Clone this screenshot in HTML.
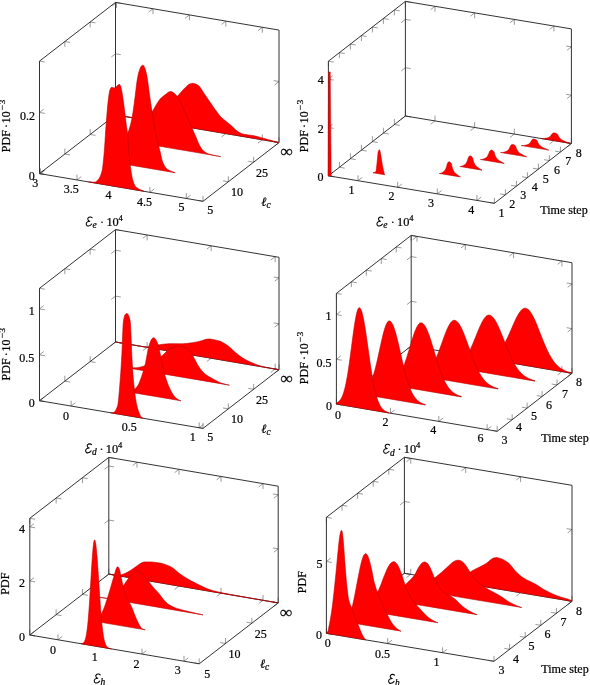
<!DOCTYPE html>
<html><head><meta charset="utf-8"><style>
html,body{margin:0;padding:0;background:#fff;width:590px;height:685px;overflow:hidden}
svg{display:block;font-family:"Liberation Serif",serif}
svg{will-change:transform}
text{stroke:#000;stroke-width:0.22px}
</style></head><body>
<svg width="590" height="685" viewBox="0 0 590 685" font-family="Liberation Serif, serif" fill="#000">
<line x1="40.52" y1="173.77" x2="44.79" y2="170.47" stroke="#555" stroke-width="0.6"/>
<line x1="40.52" y1="173.77" x2="40.52" y2="168.37" stroke="#555" stroke-width="0.6"/>
<line x1="116.52" y1="115.07" x2="112.25" y2="118.37" stroke="#555" stroke-width="0.6"/>
<line x1="116.52" y1="115.07" x2="116.52" y2="109.67" stroke="#555" stroke-width="0.6"/>
<line x1="116.52" y1="2.57" x2="112.25" y2="5.87" stroke="#555" stroke-width="0.6"/>
<line x1="116.52" y1="2.57" x2="116.52" y2="7.97" stroke="#555" stroke-width="0.6"/>
<line x1="76.97" y1="179.95" x2="81.24" y2="176.65" stroke="#555" stroke-width="0.6"/>
<line x1="76.97" y1="179.95" x2="76.97" y2="174.55" stroke="#555" stroke-width="0.6"/>
<line x1="152.97" y1="121.25" x2="148.69" y2="124.55" stroke="#555" stroke-width="0.6"/>
<line x1="152.97" y1="121.25" x2="152.97" y2="115.85" stroke="#555" stroke-width="0.6"/>
<line x1="152.97" y1="8.75" x2="148.69" y2="12.05" stroke="#555" stroke-width="0.6"/>
<line x1="152.97" y1="8.75" x2="152.97" y2="14.15" stroke="#555" stroke-width="0.6"/>
<line x1="113.41" y1="186.12" x2="117.69" y2="182.82" stroke="#555" stroke-width="0.6"/>
<line x1="113.41" y1="186.12" x2="113.41" y2="180.72" stroke="#555" stroke-width="0.6"/>
<line x1="189.41" y1="127.42" x2="185.14" y2="130.72" stroke="#555" stroke-width="0.6"/>
<line x1="189.41" y1="127.42" x2="189.41" y2="122.02" stroke="#555" stroke-width="0.6"/>
<line x1="189.41" y1="14.92" x2="185.14" y2="18.22" stroke="#555" stroke-width="0.6"/>
<line x1="189.41" y1="14.92" x2="189.41" y2="20.32" stroke="#555" stroke-width="0.6"/>
<line x1="149.86" y1="192.3" x2="154.13" y2="189" stroke="#555" stroke-width="0.6"/>
<line x1="149.86" y1="192.3" x2="149.86" y2="186.9" stroke="#555" stroke-width="0.6"/>
<line x1="225.86" y1="133.6" x2="221.59" y2="136.9" stroke="#555" stroke-width="0.6"/>
<line x1="225.86" y1="133.6" x2="225.86" y2="128.2" stroke="#555" stroke-width="0.6"/>
<line x1="225.86" y1="21.1" x2="221.59" y2="24.4" stroke="#555" stroke-width="0.6"/>
<line x1="225.86" y1="21.1" x2="225.86" y2="26.5" stroke="#555" stroke-width="0.6"/>
<line x1="186.31" y1="198.47" x2="190.58" y2="195.17" stroke="#555" stroke-width="0.6"/>
<line x1="186.31" y1="198.47" x2="186.31" y2="193.07" stroke="#555" stroke-width="0.6"/>
<line x1="262.31" y1="139.77" x2="258.03" y2="143.07" stroke="#555" stroke-width="0.6"/>
<line x1="262.31" y1="139.77" x2="262.31" y2="134.37" stroke="#555" stroke-width="0.6"/>
<line x1="262.31" y1="27.27" x2="258.03" y2="30.57" stroke="#555" stroke-width="0.6"/>
<line x1="262.31" y1="27.27" x2="262.31" y2="32.67" stroke="#555" stroke-width="0.6"/>
<line x1="203" y1="201.3" x2="197.68" y2="200.4" stroke="#555" stroke-width="0.6"/>
<line x1="203" y1="201.3" x2="203" y2="195.9" stroke="#555" stroke-width="0.6"/>
<line x1="39.5" y1="173.6" x2="44.82" y2="174.5" stroke="#555" stroke-width="0.6"/>
<line x1="39.5" y1="173.6" x2="39.5" y2="168.2" stroke="#555" stroke-width="0.6"/>
<line x1="39.5" y1="61.1" x2="44.82" y2="62" stroke="#555" stroke-width="0.6"/>
<line x1="39.5" y1="61.1" x2="39.5" y2="66.5" stroke="#555" stroke-width="0.6"/>
<line x1="228.33" y1="181.73" x2="223.01" y2="180.83" stroke="#555" stroke-width="0.6"/>
<line x1="228.33" y1="181.73" x2="228.33" y2="176.33" stroke="#555" stroke-width="0.6"/>
<line x1="64.83" y1="154.03" x2="70.16" y2="154.94" stroke="#555" stroke-width="0.6"/>
<line x1="64.83" y1="154.03" x2="64.83" y2="148.63" stroke="#555" stroke-width="0.6"/>
<line x1="64.83" y1="41.53" x2="70.16" y2="42.44" stroke="#555" stroke-width="0.6"/>
<line x1="64.83" y1="41.53" x2="64.83" y2="46.93" stroke="#555" stroke-width="0.6"/>
<line x1="253.67" y1="162.17" x2="248.34" y2="161.26" stroke="#555" stroke-width="0.6"/>
<line x1="253.67" y1="162.17" x2="253.67" y2="156.77" stroke="#555" stroke-width="0.6"/>
<line x1="90.17" y1="134.47" x2="95.49" y2="135.37" stroke="#555" stroke-width="0.6"/>
<line x1="90.17" y1="134.47" x2="90.17" y2="129.07" stroke="#555" stroke-width="0.6"/>
<line x1="90.17" y1="21.97" x2="95.49" y2="22.87" stroke="#555" stroke-width="0.6"/>
<line x1="90.17" y1="21.97" x2="90.17" y2="27.37" stroke="#555" stroke-width="0.6"/>
<line x1="279" y1="142.6" x2="273.68" y2="141.7" stroke="#555" stroke-width="0.6"/>
<line x1="279" y1="142.6" x2="279" y2="137.2" stroke="#555" stroke-width="0.6"/>
<line x1="115.5" y1="114.9" x2="120.82" y2="115.8" stroke="#555" stroke-width="0.6"/>
<line x1="115.5" y1="114.9" x2="115.5" y2="109.5" stroke="#555" stroke-width="0.6"/>
<line x1="115.5" y1="2.4" x2="120.82" y2="3.3" stroke="#555" stroke-width="0.6"/>
<line x1="115.5" y1="2.4" x2="115.5" y2="7.8" stroke="#555" stroke-width="0.6"/>
<line x1="39.5" y1="173.6" x2="44.82" y2="174.5" stroke="#555" stroke-width="0.6"/>
<line x1="39.5" y1="173.6" x2="43.77" y2="170.3" stroke="#555" stroke-width="0.6"/>
<line x1="115.5" y1="114.9" x2="120.82" y2="115.8" stroke="#555" stroke-width="0.6"/>
<line x1="115.5" y1="114.9" x2="111.23" y2="118.2" stroke="#555" stroke-width="0.6"/>
<line x1="279" y1="142.6" x2="273.68" y2="141.7" stroke="#555" stroke-width="0.6"/>
<line x1="279" y1="142.6" x2="274.73" y2="145.9" stroke="#555" stroke-width="0.6"/>
<line x1="39.5" y1="112.49" x2="44.82" y2="113.39" stroke="#555" stroke-width="0.6"/>
<line x1="39.5" y1="112.49" x2="43.77" y2="109.19" stroke="#555" stroke-width="0.6"/>
<line x1="115.5" y1="53.79" x2="120.82" y2="54.69" stroke="#555" stroke-width="0.6"/>
<line x1="115.5" y1="53.79" x2="111.23" y2="57.09" stroke="#555" stroke-width="0.6"/>
<line x1="279" y1="81.49" x2="273.68" y2="80.59" stroke="#555" stroke-width="0.6"/>
<line x1="279" y1="81.49" x2="274.73" y2="84.79" stroke="#555" stroke-width="0.6"/>
<line x1="39.5" y1="173.6" x2="39.5" y2="61.1" stroke="#333" stroke-width="1.0"/>
<line x1="39.5" y1="61.1" x2="115.5" y2="2.4" stroke="#333" stroke-width="1.0"/>
<line x1="115.5" y1="114.9" x2="115.5" y2="2.4" stroke="#333" stroke-width="1.0"/>
<line x1="115.5" y1="2.4" x2="279" y2="30.1" stroke="#333" stroke-width="1.0"/>
<line x1="279" y1="142.6" x2="279" y2="30.1" stroke="#333" stroke-width="1.0"/>
<line x1="39.5" y1="173.6" x2="115.5" y2="114.9" stroke="#333" stroke-width="1.0"/>
<line x1="115.5" y1="114.9" x2="279" y2="142.6" stroke="#333" stroke-width="1.0"/>
<line x1="39.5" y1="173.6" x2="203" y2="201.3" stroke="#333" stroke-width="1.0"/>
<line x1="203" y1="201.3" x2="279" y2="142.6" stroke="#333" stroke-width="1.0"/>
<line x1="358" y1="180.7" x2="362.26" y2="177.39" stroke="#555" stroke-width="0.6"/>
<line x1="358" y1="180.7" x2="358" y2="175.3" stroke="#555" stroke-width="0.6"/>
<line x1="435" y1="120.9" x2="430.73" y2="124.22" stroke="#555" stroke-width="0.6"/>
<line x1="435" y1="120.9" x2="435" y2="115.5" stroke="#555" stroke-width="0.6"/>
<line x1="435" y1="6.3" x2="430.73" y2="9.62" stroke="#555" stroke-width="0.6"/>
<line x1="435" y1="6.3" x2="435" y2="11.7" stroke="#555" stroke-width="0.6"/>
<line x1="397.65" y1="187.27" x2="401.92" y2="183.96" stroke="#555" stroke-width="0.6"/>
<line x1="397.65" y1="187.27" x2="397.65" y2="181.87" stroke="#555" stroke-width="0.6"/>
<line x1="474.65" y1="127.47" x2="470.39" y2="130.78" stroke="#555" stroke-width="0.6"/>
<line x1="474.65" y1="127.47" x2="474.65" y2="122.07" stroke="#555" stroke-width="0.6"/>
<line x1="474.65" y1="12.87" x2="470.39" y2="16.18" stroke="#555" stroke-width="0.6"/>
<line x1="474.65" y1="12.87" x2="474.65" y2="18.27" stroke="#555" stroke-width="0.6"/>
<line x1="437.3" y1="193.84" x2="441.57" y2="190.53" stroke="#555" stroke-width="0.6"/>
<line x1="437.3" y1="193.84" x2="437.3" y2="188.44" stroke="#555" stroke-width="0.6"/>
<line x1="514.3" y1="134.04" x2="510.04" y2="137.35" stroke="#555" stroke-width="0.6"/>
<line x1="514.3" y1="134.04" x2="514.3" y2="128.64" stroke="#555" stroke-width="0.6"/>
<line x1="514.3" y1="19.44" x2="510.04" y2="22.75" stroke="#555" stroke-width="0.6"/>
<line x1="514.3" y1="19.44" x2="514.3" y2="24.84" stroke="#555" stroke-width="0.6"/>
<line x1="476.95" y1="200.41" x2="481.22" y2="197.1" stroke="#555" stroke-width="0.6"/>
<line x1="476.95" y1="200.41" x2="476.95" y2="195.01" stroke="#555" stroke-width="0.6"/>
<line x1="553.95" y1="140.61" x2="549.69" y2="143.92" stroke="#555" stroke-width="0.6"/>
<line x1="553.95" y1="140.61" x2="553.95" y2="135.21" stroke="#555" stroke-width="0.6"/>
<line x1="553.95" y1="26.01" x2="549.69" y2="29.32" stroke="#555" stroke-width="0.6"/>
<line x1="553.95" y1="26.01" x2="553.95" y2="31.41" stroke="#555" stroke-width="0.6"/>
<line x1="494.4" y1="203.3" x2="489.07" y2="202.42" stroke="#555" stroke-width="0.6"/>
<line x1="494.4" y1="203.3" x2="494.4" y2="197.9" stroke="#555" stroke-width="0.6"/>
<line x1="328.4" y1="175.8" x2="333.73" y2="176.68" stroke="#555" stroke-width="0.6"/>
<line x1="328.4" y1="175.8" x2="328.4" y2="170.4" stroke="#555" stroke-width="0.6"/>
<line x1="328.4" y1="61.2" x2="333.73" y2="62.08" stroke="#555" stroke-width="0.6"/>
<line x1="328.4" y1="61.2" x2="328.4" y2="66.6" stroke="#555" stroke-width="0.6"/>
<line x1="505.4" y1="194.76" x2="500.07" y2="193.87" stroke="#555" stroke-width="0.6"/>
<line x1="505.4" y1="194.76" x2="505.4" y2="189.36" stroke="#555" stroke-width="0.6"/>
<line x1="339.4" y1="167.26" x2="344.73" y2="168.14" stroke="#555" stroke-width="0.6"/>
<line x1="339.4" y1="167.26" x2="339.4" y2="161.86" stroke="#555" stroke-width="0.6"/>
<line x1="339.4" y1="52.66" x2="344.73" y2="53.54" stroke="#555" stroke-width="0.6"/>
<line x1="339.4" y1="52.66" x2="339.4" y2="58.06" stroke="#555" stroke-width="0.6"/>
<line x1="516.4" y1="186.21" x2="511.07" y2="185.33" stroke="#555" stroke-width="0.6"/>
<line x1="516.4" y1="186.21" x2="516.4" y2="180.81" stroke="#555" stroke-width="0.6"/>
<line x1="350.4" y1="158.71" x2="355.73" y2="159.6" stroke="#555" stroke-width="0.6"/>
<line x1="350.4" y1="158.71" x2="350.4" y2="153.31" stroke="#555" stroke-width="0.6"/>
<line x1="350.4" y1="44.11" x2="355.73" y2="45" stroke="#555" stroke-width="0.6"/>
<line x1="350.4" y1="44.11" x2="350.4" y2="49.51" stroke="#555" stroke-width="0.6"/>
<line x1="527.4" y1="177.67" x2="522.07" y2="176.79" stroke="#555" stroke-width="0.6"/>
<line x1="527.4" y1="177.67" x2="527.4" y2="172.27" stroke="#555" stroke-width="0.6"/>
<line x1="361.4" y1="150.17" x2="366.73" y2="151.05" stroke="#555" stroke-width="0.6"/>
<line x1="361.4" y1="150.17" x2="361.4" y2="144.77" stroke="#555" stroke-width="0.6"/>
<line x1="361.4" y1="35.57" x2="366.73" y2="36.45" stroke="#555" stroke-width="0.6"/>
<line x1="361.4" y1="35.57" x2="361.4" y2="40.97" stroke="#555" stroke-width="0.6"/>
<line x1="538.4" y1="169.13" x2="533.07" y2="168.25" stroke="#555" stroke-width="0.6"/>
<line x1="538.4" y1="169.13" x2="538.4" y2="163.73" stroke="#555" stroke-width="0.6"/>
<line x1="372.4" y1="141.63" x2="377.73" y2="142.51" stroke="#555" stroke-width="0.6"/>
<line x1="372.4" y1="141.63" x2="372.4" y2="136.23" stroke="#555" stroke-width="0.6"/>
<line x1="372.4" y1="27.03" x2="377.73" y2="27.91" stroke="#555" stroke-width="0.6"/>
<line x1="372.4" y1="27.03" x2="372.4" y2="32.43" stroke="#555" stroke-width="0.6"/>
<line x1="549.4" y1="160.59" x2="544.07" y2="159.7" stroke="#555" stroke-width="0.6"/>
<line x1="549.4" y1="160.59" x2="549.4" y2="155.19" stroke="#555" stroke-width="0.6"/>
<line x1="383.4" y1="133.09" x2="388.73" y2="133.97" stroke="#555" stroke-width="0.6"/>
<line x1="383.4" y1="133.09" x2="383.4" y2="127.69" stroke="#555" stroke-width="0.6"/>
<line x1="383.4" y1="18.49" x2="388.73" y2="19.37" stroke="#555" stroke-width="0.6"/>
<line x1="383.4" y1="18.49" x2="383.4" y2="23.89" stroke="#555" stroke-width="0.6"/>
<line x1="560.4" y1="152.04" x2="555.07" y2="151.16" stroke="#555" stroke-width="0.6"/>
<line x1="560.4" y1="152.04" x2="560.4" y2="146.64" stroke="#555" stroke-width="0.6"/>
<line x1="394.4" y1="124.54" x2="399.73" y2="125.43" stroke="#555" stroke-width="0.6"/>
<line x1="394.4" y1="124.54" x2="394.4" y2="119.14" stroke="#555" stroke-width="0.6"/>
<line x1="394.4" y1="9.94" x2="399.73" y2="10.83" stroke="#555" stroke-width="0.6"/>
<line x1="394.4" y1="9.94" x2="394.4" y2="15.34" stroke="#555" stroke-width="0.6"/>
<line x1="571.4" y1="143.5" x2="566.07" y2="142.62" stroke="#555" stroke-width="0.6"/>
<line x1="571.4" y1="143.5" x2="571.4" y2="138.1" stroke="#555" stroke-width="0.6"/>
<line x1="405.4" y1="116" x2="410.73" y2="116.88" stroke="#555" stroke-width="0.6"/>
<line x1="405.4" y1="116" x2="405.4" y2="110.6" stroke="#555" stroke-width="0.6"/>
<line x1="405.4" y1="1.4" x2="410.73" y2="2.28" stroke="#555" stroke-width="0.6"/>
<line x1="405.4" y1="1.4" x2="405.4" y2="6.8" stroke="#555" stroke-width="0.6"/>
<line x1="328.4" y1="175.8" x2="333.73" y2="176.68" stroke="#555" stroke-width="0.6"/>
<line x1="328.4" y1="175.8" x2="332.66" y2="172.49" stroke="#555" stroke-width="0.6"/>
<line x1="405.4" y1="116" x2="410.73" y2="116.88" stroke="#555" stroke-width="0.6"/>
<line x1="405.4" y1="116" x2="401.14" y2="119.31" stroke="#555" stroke-width="0.6"/>
<line x1="571.4" y1="143.5" x2="566.07" y2="142.62" stroke="#555" stroke-width="0.6"/>
<line x1="571.4" y1="143.5" x2="567.14" y2="146.81" stroke="#555" stroke-width="0.6"/>
<line x1="328.4" y1="127.5" x2="333.73" y2="128.38" stroke="#555" stroke-width="0.6"/>
<line x1="328.4" y1="127.5" x2="332.66" y2="124.18" stroke="#555" stroke-width="0.6"/>
<line x1="405.4" y1="67.7" x2="410.73" y2="68.58" stroke="#555" stroke-width="0.6"/>
<line x1="405.4" y1="67.7" x2="401.14" y2="71.01" stroke="#555" stroke-width="0.6"/>
<line x1="571.4" y1="95.2" x2="566.07" y2="94.31" stroke="#555" stroke-width="0.6"/>
<line x1="571.4" y1="95.2" x2="567.14" y2="98.51" stroke="#555" stroke-width="0.6"/>
<line x1="328.4" y1="79.19" x2="333.73" y2="80.08" stroke="#555" stroke-width="0.6"/>
<line x1="328.4" y1="79.19" x2="332.66" y2="75.88" stroke="#555" stroke-width="0.6"/>
<line x1="405.4" y1="19.39" x2="410.73" y2="20.28" stroke="#555" stroke-width="0.6"/>
<line x1="405.4" y1="19.39" x2="401.14" y2="22.71" stroke="#555" stroke-width="0.6"/>
<line x1="571.4" y1="46.89" x2="566.07" y2="46.01" stroke="#555" stroke-width="0.6"/>
<line x1="571.4" y1="46.89" x2="567.14" y2="50.21" stroke="#555" stroke-width="0.6"/>
<line x1="328.4" y1="175.8" x2="328.4" y2="61.2" stroke="#333" stroke-width="1.0"/>
<line x1="328.4" y1="61.2" x2="405.4" y2="1.4" stroke="#333" stroke-width="1.0"/>
<line x1="405.4" y1="116" x2="405.4" y2="1.4" stroke="#333" stroke-width="1.0"/>
<line x1="405.4" y1="1.4" x2="571.4" y2="28.9" stroke="#333" stroke-width="1.0"/>
<line x1="571.4" y1="143.5" x2="571.4" y2="28.9" stroke="#333" stroke-width="1.0"/>
<line x1="328.4" y1="175.8" x2="405.4" y2="116" stroke="#333" stroke-width="1.0"/>
<line x1="405.4" y1="116" x2="571.4" y2="143.5" stroke="#333" stroke-width="1.0"/>
<line x1="328.4" y1="175.8" x2="494.4" y2="203.3" stroke="#333" stroke-width="1.0"/>
<line x1="494.4" y1="203.3" x2="571.4" y2="143.5" stroke="#333" stroke-width="1.0"/>
<line x1="71.12" y1="406.06" x2="75.4" y2="402.76" stroke="#555" stroke-width="0.6"/>
<line x1="71.12" y1="406.06" x2="71.12" y2="400.66" stroke="#555" stroke-width="0.6"/>
<line x1="147.12" y1="347.36" x2="142.85" y2="350.66" stroke="#555" stroke-width="0.6"/>
<line x1="147.12" y1="347.36" x2="147.12" y2="341.96" stroke="#555" stroke-width="0.6"/>
<line x1="147.12" y1="234.96" x2="142.85" y2="238.26" stroke="#555" stroke-width="0.6"/>
<line x1="147.12" y1="234.96" x2="147.12" y2="240.36" stroke="#555" stroke-width="0.6"/>
<line x1="135.14" y1="416.9" x2="139.42" y2="413.6" stroke="#555" stroke-width="0.6"/>
<line x1="135.14" y1="416.9" x2="135.14" y2="411.5" stroke="#555" stroke-width="0.6"/>
<line x1="211.14" y1="358.2" x2="206.87" y2="361.5" stroke="#555" stroke-width="0.6"/>
<line x1="211.14" y1="358.2" x2="211.14" y2="352.8" stroke="#555" stroke-width="0.6"/>
<line x1="211.14" y1="245.8" x2="206.87" y2="249.1" stroke="#555" stroke-width="0.6"/>
<line x1="211.14" y1="245.8" x2="211.14" y2="251.2" stroke="#555" stroke-width="0.6"/>
<line x1="199.16" y1="427.75" x2="203.43" y2="424.45" stroke="#555" stroke-width="0.6"/>
<line x1="199.16" y1="427.75" x2="199.16" y2="422.35" stroke="#555" stroke-width="0.6"/>
<line x1="275.16" y1="369.05" x2="270.89" y2="372.35" stroke="#555" stroke-width="0.6"/>
<line x1="275.16" y1="369.05" x2="275.16" y2="363.65" stroke="#555" stroke-width="0.6"/>
<line x1="275.16" y1="256.65" x2="270.89" y2="259.95" stroke="#555" stroke-width="0.6"/>
<line x1="275.16" y1="256.65" x2="275.16" y2="262.05" stroke="#555" stroke-width="0.6"/>
<line x1="203" y1="428.4" x2="197.68" y2="427.5" stroke="#555" stroke-width="0.6"/>
<line x1="203" y1="428.4" x2="203" y2="423" stroke="#555" stroke-width="0.6"/>
<line x1="39.5" y1="400.7" x2="44.82" y2="401.6" stroke="#555" stroke-width="0.6"/>
<line x1="39.5" y1="400.7" x2="39.5" y2="395.3" stroke="#555" stroke-width="0.6"/>
<line x1="39.5" y1="288.3" x2="44.82" y2="289.2" stroke="#555" stroke-width="0.6"/>
<line x1="39.5" y1="288.3" x2="39.5" y2="293.7" stroke="#555" stroke-width="0.6"/>
<line x1="228.33" y1="408.83" x2="223.01" y2="407.93" stroke="#555" stroke-width="0.6"/>
<line x1="228.33" y1="408.83" x2="228.33" y2="403.43" stroke="#555" stroke-width="0.6"/>
<line x1="64.83" y1="381.13" x2="70.16" y2="382.04" stroke="#555" stroke-width="0.6"/>
<line x1="64.83" y1="381.13" x2="64.83" y2="375.73" stroke="#555" stroke-width="0.6"/>
<line x1="64.83" y1="268.73" x2="70.16" y2="269.64" stroke="#555" stroke-width="0.6"/>
<line x1="64.83" y1="268.73" x2="64.83" y2="274.13" stroke="#555" stroke-width="0.6"/>
<line x1="253.67" y1="389.27" x2="248.34" y2="388.36" stroke="#555" stroke-width="0.6"/>
<line x1="253.67" y1="389.27" x2="253.67" y2="383.87" stroke="#555" stroke-width="0.6"/>
<line x1="90.17" y1="361.57" x2="95.49" y2="362.47" stroke="#555" stroke-width="0.6"/>
<line x1="90.17" y1="361.57" x2="90.17" y2="356.17" stroke="#555" stroke-width="0.6"/>
<line x1="90.17" y1="249.17" x2="95.49" y2="250.07" stroke="#555" stroke-width="0.6"/>
<line x1="90.17" y1="249.17" x2="90.17" y2="254.57" stroke="#555" stroke-width="0.6"/>
<line x1="279" y1="369.7" x2="273.68" y2="368.8" stroke="#555" stroke-width="0.6"/>
<line x1="279" y1="369.7" x2="279" y2="364.3" stroke="#555" stroke-width="0.6"/>
<line x1="115.5" y1="342" x2="120.82" y2="342.9" stroke="#555" stroke-width="0.6"/>
<line x1="115.5" y1="342" x2="115.5" y2="336.6" stroke="#555" stroke-width="0.6"/>
<line x1="115.5" y1="229.6" x2="120.82" y2="230.5" stroke="#555" stroke-width="0.6"/>
<line x1="115.5" y1="229.6" x2="115.5" y2="235" stroke="#555" stroke-width="0.6"/>
<line x1="39.5" y1="400.7" x2="44.82" y2="401.6" stroke="#555" stroke-width="0.6"/>
<line x1="39.5" y1="400.7" x2="43.77" y2="397.4" stroke="#555" stroke-width="0.6"/>
<line x1="115.5" y1="342" x2="120.82" y2="342.9" stroke="#555" stroke-width="0.6"/>
<line x1="115.5" y1="342" x2="111.23" y2="345.3" stroke="#555" stroke-width="0.6"/>
<line x1="279" y1="369.7" x2="273.68" y2="368.8" stroke="#555" stroke-width="0.6"/>
<line x1="279" y1="369.7" x2="274.73" y2="373" stroke="#555" stroke-width="0.6"/>
<line x1="39.5" y1="354.8" x2="44.82" y2="355.7" stroke="#555" stroke-width="0.6"/>
<line x1="39.5" y1="354.8" x2="43.77" y2="351.5" stroke="#555" stroke-width="0.6"/>
<line x1="115.5" y1="296.1" x2="120.82" y2="297" stroke="#555" stroke-width="0.6"/>
<line x1="115.5" y1="296.1" x2="111.23" y2="299.4" stroke="#555" stroke-width="0.6"/>
<line x1="279" y1="323.8" x2="273.68" y2="322.9" stroke="#555" stroke-width="0.6"/>
<line x1="279" y1="323.8" x2="274.73" y2="327.1" stroke="#555" stroke-width="0.6"/>
<line x1="39.5" y1="308.9" x2="44.82" y2="309.8" stroke="#555" stroke-width="0.6"/>
<line x1="39.5" y1="308.9" x2="43.77" y2="305.6" stroke="#555" stroke-width="0.6"/>
<line x1="115.5" y1="250.2" x2="120.82" y2="251.1" stroke="#555" stroke-width="0.6"/>
<line x1="115.5" y1="250.2" x2="111.23" y2="253.5" stroke="#555" stroke-width="0.6"/>
<line x1="279" y1="277.9" x2="273.68" y2="277" stroke="#555" stroke-width="0.6"/>
<line x1="279" y1="277.9" x2="274.73" y2="281.2" stroke="#555" stroke-width="0.6"/>
<line x1="39.5" y1="400.7" x2="39.5" y2="288.3" stroke="#333" stroke-width="1.0"/>
<line x1="39.5" y1="288.3" x2="115.5" y2="229.6" stroke="#333" stroke-width="1.0"/>
<line x1="115.5" y1="342" x2="115.5" y2="229.6" stroke="#333" stroke-width="1.0"/>
<line x1="115.5" y1="229.6" x2="279" y2="257.3" stroke="#333" stroke-width="1.0"/>
<line x1="279" y1="369.7" x2="279" y2="257.3" stroke="#333" stroke-width="1.0"/>
<line x1="39.5" y1="400.7" x2="115.5" y2="342" stroke="#333" stroke-width="1.0"/>
<line x1="115.5" y1="342" x2="279" y2="369.7" stroke="#333" stroke-width="1.0"/>
<line x1="39.5" y1="400.7" x2="203" y2="428.4" stroke="#333" stroke-width="1.0"/>
<line x1="203" y1="428.4" x2="279" y2="369.7" stroke="#333" stroke-width="1.0"/>
<line x1="342.2" y1="404.98" x2="346.46" y2="401.68" stroke="#555" stroke-width="0.6"/>
<line x1="342.2" y1="404.98" x2="342.2" y2="399.58" stroke="#555" stroke-width="0.6"/>
<line x1="417" y1="346.98" x2="412.73" y2="350.29" stroke="#555" stroke-width="0.6"/>
<line x1="417" y1="346.98" x2="417" y2="341.58" stroke="#555" stroke-width="0.6"/>
<line x1="417" y1="236.38" x2="412.73" y2="239.69" stroke="#555" stroke-width="0.6"/>
<line x1="417" y1="236.38" x2="417" y2="241.78" stroke="#555" stroke-width="0.6"/>
<line x1="390.5" y1="413.18" x2="394.77" y2="409.88" stroke="#555" stroke-width="0.6"/>
<line x1="390.5" y1="413.18" x2="390.5" y2="407.78" stroke="#555" stroke-width="0.6"/>
<line x1="465.3" y1="355.18" x2="461.03" y2="358.49" stroke="#555" stroke-width="0.6"/>
<line x1="465.3" y1="355.18" x2="465.3" y2="349.78" stroke="#555" stroke-width="0.6"/>
<line x1="465.3" y1="244.58" x2="461.03" y2="247.89" stroke="#555" stroke-width="0.6"/>
<line x1="465.3" y1="244.58" x2="465.3" y2="249.98" stroke="#555" stroke-width="0.6"/>
<line x1="438.8" y1="421.39" x2="443.07" y2="418.08" stroke="#555" stroke-width="0.6"/>
<line x1="438.8" y1="421.39" x2="438.8" y2="415.99" stroke="#555" stroke-width="0.6"/>
<line x1="513.6" y1="363.39" x2="509.33" y2="366.69" stroke="#555" stroke-width="0.6"/>
<line x1="513.6" y1="363.39" x2="513.6" y2="357.99" stroke="#555" stroke-width="0.6"/>
<line x1="513.6" y1="252.79" x2="509.33" y2="256.09" stroke="#555" stroke-width="0.6"/>
<line x1="513.6" y1="252.79" x2="513.6" y2="258.19" stroke="#555" stroke-width="0.6"/>
<line x1="487.1" y1="429.59" x2="491.37" y2="426.28" stroke="#555" stroke-width="0.6"/>
<line x1="487.1" y1="429.59" x2="487.1" y2="424.19" stroke="#555" stroke-width="0.6"/>
<line x1="561.9" y1="371.59" x2="557.64" y2="374.9" stroke="#555" stroke-width="0.6"/>
<line x1="561.9" y1="371.59" x2="561.9" y2="366.19" stroke="#555" stroke-width="0.6"/>
<line x1="561.9" y1="260.99" x2="557.64" y2="264.3" stroke="#555" stroke-width="0.6"/>
<line x1="561.9" y1="260.99" x2="561.9" y2="266.39" stroke="#555" stroke-width="0.6"/>
<line x1="497.2" y1="431.3" x2="491.88" y2="430.4" stroke="#555" stroke-width="0.6"/>
<line x1="497.2" y1="431.3" x2="497.2" y2="425.9" stroke="#555" stroke-width="0.6"/>
<line x1="336.4" y1="404" x2="341.72" y2="404.9" stroke="#555" stroke-width="0.6"/>
<line x1="336.4" y1="404" x2="336.4" y2="398.6" stroke="#555" stroke-width="0.6"/>
<line x1="336.4" y1="293.4" x2="341.72" y2="294.3" stroke="#555" stroke-width="0.6"/>
<line x1="336.4" y1="293.4" x2="336.4" y2="298.8" stroke="#555" stroke-width="0.6"/>
<line x1="512.16" y1="419.7" x2="506.84" y2="418.8" stroke="#555" stroke-width="0.6"/>
<line x1="512.16" y1="419.7" x2="512.16" y2="414.3" stroke="#555" stroke-width="0.6"/>
<line x1="351.36" y1="392.4" x2="356.68" y2="393.3" stroke="#555" stroke-width="0.6"/>
<line x1="351.36" y1="392.4" x2="351.36" y2="387" stroke="#555" stroke-width="0.6"/>
<line x1="351.36" y1="281.8" x2="356.68" y2="282.7" stroke="#555" stroke-width="0.6"/>
<line x1="351.36" y1="281.8" x2="351.36" y2="287.2" stroke="#555" stroke-width="0.6"/>
<line x1="527.12" y1="408.1" x2="521.8" y2="407.2" stroke="#555" stroke-width="0.6"/>
<line x1="527.12" y1="408.1" x2="527.12" y2="402.7" stroke="#555" stroke-width="0.6"/>
<line x1="366.32" y1="380.8" x2="371.64" y2="381.7" stroke="#555" stroke-width="0.6"/>
<line x1="366.32" y1="380.8" x2="366.32" y2="375.4" stroke="#555" stroke-width="0.6"/>
<line x1="366.32" y1="270.2" x2="371.64" y2="271.1" stroke="#555" stroke-width="0.6"/>
<line x1="366.32" y1="270.2" x2="366.32" y2="275.6" stroke="#555" stroke-width="0.6"/>
<line x1="542.08" y1="396.5" x2="536.76" y2="395.6" stroke="#555" stroke-width="0.6"/>
<line x1="542.08" y1="396.5" x2="542.08" y2="391.1" stroke="#555" stroke-width="0.6"/>
<line x1="381.28" y1="369.2" x2="386.6" y2="370.1" stroke="#555" stroke-width="0.6"/>
<line x1="381.28" y1="369.2" x2="381.28" y2="363.8" stroke="#555" stroke-width="0.6"/>
<line x1="381.28" y1="258.6" x2="386.6" y2="259.5" stroke="#555" stroke-width="0.6"/>
<line x1="381.28" y1="258.6" x2="381.28" y2="264" stroke="#555" stroke-width="0.6"/>
<line x1="557.04" y1="384.9" x2="551.72" y2="384" stroke="#555" stroke-width="0.6"/>
<line x1="557.04" y1="384.9" x2="557.04" y2="379.5" stroke="#555" stroke-width="0.6"/>
<line x1="396.24" y1="357.6" x2="401.56" y2="358.5" stroke="#555" stroke-width="0.6"/>
<line x1="396.24" y1="357.6" x2="396.24" y2="352.2" stroke="#555" stroke-width="0.6"/>
<line x1="396.24" y1="247" x2="401.56" y2="247.9" stroke="#555" stroke-width="0.6"/>
<line x1="396.24" y1="247" x2="396.24" y2="252.4" stroke="#555" stroke-width="0.6"/>
<line x1="572" y1="373.3" x2="566.68" y2="372.4" stroke="#555" stroke-width="0.6"/>
<line x1="572" y1="373.3" x2="572" y2="367.9" stroke="#555" stroke-width="0.6"/>
<line x1="411.2" y1="346" x2="416.52" y2="346.9" stroke="#555" stroke-width="0.6"/>
<line x1="411.2" y1="346" x2="411.2" y2="340.6" stroke="#555" stroke-width="0.6"/>
<line x1="411.2" y1="235.4" x2="416.52" y2="236.3" stroke="#555" stroke-width="0.6"/>
<line x1="411.2" y1="235.4" x2="411.2" y2="240.8" stroke="#555" stroke-width="0.6"/>
<line x1="336.4" y1="404" x2="341.72" y2="404.9" stroke="#555" stroke-width="0.6"/>
<line x1="336.4" y1="404" x2="340.67" y2="400.69" stroke="#555" stroke-width="0.6"/>
<line x1="411.2" y1="346" x2="416.52" y2="346.9" stroke="#555" stroke-width="0.6"/>
<line x1="411.2" y1="346" x2="406.93" y2="349.31" stroke="#555" stroke-width="0.6"/>
<line x1="572" y1="373.3" x2="566.68" y2="372.4" stroke="#555" stroke-width="0.6"/>
<line x1="572" y1="373.3" x2="567.73" y2="376.61" stroke="#555" stroke-width="0.6"/>
<line x1="336.4" y1="359.3" x2="341.72" y2="360.2" stroke="#555" stroke-width="0.6"/>
<line x1="336.4" y1="359.3" x2="340.67" y2="355.99" stroke="#555" stroke-width="0.6"/>
<line x1="411.2" y1="301.3" x2="416.52" y2="302.2" stroke="#555" stroke-width="0.6"/>
<line x1="411.2" y1="301.3" x2="406.93" y2="304.6" stroke="#555" stroke-width="0.6"/>
<line x1="572" y1="328.6" x2="566.68" y2="327.69" stroke="#555" stroke-width="0.6"/>
<line x1="572" y1="328.6" x2="567.73" y2="331.9" stroke="#555" stroke-width="0.6"/>
<line x1="336.4" y1="314.59" x2="341.72" y2="315.49" stroke="#555" stroke-width="0.6"/>
<line x1="336.4" y1="314.59" x2="340.67" y2="311.28" stroke="#555" stroke-width="0.6"/>
<line x1="411.2" y1="256.59" x2="416.52" y2="257.49" stroke="#555" stroke-width="0.6"/>
<line x1="411.2" y1="256.59" x2="406.93" y2="259.9" stroke="#555" stroke-width="0.6"/>
<line x1="572" y1="283.89" x2="566.68" y2="282.99" stroke="#555" stroke-width="0.6"/>
<line x1="572" y1="283.89" x2="567.73" y2="287.2" stroke="#555" stroke-width="0.6"/>
<line x1="336.4" y1="404" x2="336.4" y2="293.4" stroke="#333" stroke-width="1.0"/>
<line x1="336.4" y1="293.4" x2="411.2" y2="235.4" stroke="#333" stroke-width="1.0"/>
<line x1="411.2" y1="346" x2="411.2" y2="235.4" stroke="#333" stroke-width="1.0"/>
<line x1="411.2" y1="235.4" x2="572" y2="262.7" stroke="#333" stroke-width="1.0"/>
<line x1="572" y1="373.3" x2="572" y2="262.7" stroke="#333" stroke-width="1.0"/>
<line x1="336.4" y1="404" x2="411.2" y2="346" stroke="#333" stroke-width="1.0"/>
<line x1="411.2" y1="346" x2="572" y2="373.3" stroke="#333" stroke-width="1.0"/>
<line x1="336.4" y1="404" x2="497.2" y2="431.3" stroke="#333" stroke-width="1.0"/>
<line x1="497.2" y1="431.3" x2="572" y2="373.3" stroke="#333" stroke-width="1.0"/>
<line x1="57.98" y1="639.79" x2="62.26" y2="636.49" stroke="#555" stroke-width="0.6"/>
<line x1="57.98" y1="639.79" x2="57.98" y2="634.39" stroke="#555" stroke-width="0.6"/>
<line x1="136.98" y1="578.89" x2="132.71" y2="582.19" stroke="#555" stroke-width="0.6"/>
<line x1="136.98" y1="578.89" x2="136.98" y2="573.49" stroke="#555" stroke-width="0.6"/>
<line x1="136.98" y1="462.19" x2="132.71" y2="465.49" stroke="#555" stroke-width="0.6"/>
<line x1="136.98" y1="462.19" x2="136.98" y2="467.59" stroke="#555" stroke-width="0.6"/>
<line x1="99.99" y1="646.93" x2="104.26" y2="643.64" stroke="#555" stroke-width="0.6"/>
<line x1="99.99" y1="646.93" x2="99.99" y2="641.53" stroke="#555" stroke-width="0.6"/>
<line x1="178.99" y1="586.03" x2="174.71" y2="589.33" stroke="#555" stroke-width="0.6"/>
<line x1="178.99" y1="586.03" x2="178.99" y2="580.63" stroke="#555" stroke-width="0.6"/>
<line x1="178.99" y1="469.33" x2="174.71" y2="472.63" stroke="#555" stroke-width="0.6"/>
<line x1="178.99" y1="469.33" x2="178.99" y2="474.73" stroke="#555" stroke-width="0.6"/>
<line x1="141.99" y1="654.07" x2="146.27" y2="650.78" stroke="#555" stroke-width="0.6"/>
<line x1="141.99" y1="654.07" x2="141.99" y2="648.67" stroke="#555" stroke-width="0.6"/>
<line x1="220.99" y1="593.17" x2="216.71" y2="596.47" stroke="#555" stroke-width="0.6"/>
<line x1="220.99" y1="593.17" x2="220.99" y2="587.77" stroke="#555" stroke-width="0.6"/>
<line x1="220.99" y1="476.47" x2="216.71" y2="479.77" stroke="#555" stroke-width="0.6"/>
<line x1="220.99" y1="476.47" x2="220.99" y2="481.87" stroke="#555" stroke-width="0.6"/>
<line x1="183.99" y1="661.21" x2="188.27" y2="657.92" stroke="#555" stroke-width="0.6"/>
<line x1="183.99" y1="661.21" x2="183.99" y2="655.81" stroke="#555" stroke-width="0.6"/>
<line x1="262.99" y1="600.31" x2="258.72" y2="603.61" stroke="#555" stroke-width="0.6"/>
<line x1="262.99" y1="600.31" x2="262.99" y2="594.91" stroke="#555" stroke-width="0.6"/>
<line x1="262.99" y1="483.61" x2="258.72" y2="486.91" stroke="#555" stroke-width="0.6"/>
<line x1="262.99" y1="483.61" x2="262.99" y2="489.01" stroke="#555" stroke-width="0.6"/>
<line x1="199.2" y1="663.8" x2="193.88" y2="662.89" stroke="#555" stroke-width="0.6"/>
<line x1="199.2" y1="663.8" x2="199.2" y2="658.4" stroke="#555" stroke-width="0.6"/>
<line x1="29.8" y1="635" x2="35.12" y2="635.91" stroke="#555" stroke-width="0.6"/>
<line x1="29.8" y1="635" x2="29.8" y2="629.6" stroke="#555" stroke-width="0.6"/>
<line x1="29.8" y1="518.3" x2="35.12" y2="519.21" stroke="#555" stroke-width="0.6"/>
<line x1="29.8" y1="518.3" x2="29.8" y2="523.7" stroke="#555" stroke-width="0.6"/>
<line x1="225.53" y1="643.5" x2="220.21" y2="642.59" stroke="#555" stroke-width="0.6"/>
<line x1="225.53" y1="643.5" x2="225.53" y2="638.1" stroke="#555" stroke-width="0.6"/>
<line x1="56.13" y1="614.7" x2="61.46" y2="615.61" stroke="#555" stroke-width="0.6"/>
<line x1="56.13" y1="614.7" x2="56.13" y2="609.3" stroke="#555" stroke-width="0.6"/>
<line x1="56.13" y1="498" x2="61.46" y2="498.91" stroke="#555" stroke-width="0.6"/>
<line x1="56.13" y1="498" x2="56.13" y2="503.4" stroke="#555" stroke-width="0.6"/>
<line x1="251.87" y1="623.2" x2="246.54" y2="622.29" stroke="#555" stroke-width="0.6"/>
<line x1="251.87" y1="623.2" x2="251.87" y2="617.8" stroke="#555" stroke-width="0.6"/>
<line x1="82.47" y1="594.4" x2="87.79" y2="595.31" stroke="#555" stroke-width="0.6"/>
<line x1="82.47" y1="594.4" x2="82.47" y2="589" stroke="#555" stroke-width="0.6"/>
<line x1="82.47" y1="477.7" x2="87.79" y2="478.61" stroke="#555" stroke-width="0.6"/>
<line x1="82.47" y1="477.7" x2="82.47" y2="483.1" stroke="#555" stroke-width="0.6"/>
<line x1="278.2" y1="602.9" x2="272.88" y2="601.99" stroke="#555" stroke-width="0.6"/>
<line x1="278.2" y1="602.9" x2="278.2" y2="597.5" stroke="#555" stroke-width="0.6"/>
<line x1="108.8" y1="574.1" x2="114.12" y2="575.01" stroke="#555" stroke-width="0.6"/>
<line x1="108.8" y1="574.1" x2="108.8" y2="568.7" stroke="#555" stroke-width="0.6"/>
<line x1="108.8" y1="457.4" x2="114.12" y2="458.31" stroke="#555" stroke-width="0.6"/>
<line x1="108.8" y1="457.4" x2="108.8" y2="462.8" stroke="#555" stroke-width="0.6"/>
<line x1="29.8" y1="635" x2="35.12" y2="635.91" stroke="#555" stroke-width="0.6"/>
<line x1="29.8" y1="635" x2="34.08" y2="631.7" stroke="#555" stroke-width="0.6"/>
<line x1="108.8" y1="574.1" x2="114.12" y2="575.01" stroke="#555" stroke-width="0.6"/>
<line x1="108.8" y1="574.1" x2="104.52" y2="577.4" stroke="#555" stroke-width="0.6"/>
<line x1="278.2" y1="602.9" x2="272.88" y2="601.99" stroke="#555" stroke-width="0.6"/>
<line x1="278.2" y1="602.9" x2="273.92" y2="606.2" stroke="#555" stroke-width="0.6"/>
<line x1="29.8" y1="580.95" x2="35.12" y2="581.85" stroke="#555" stroke-width="0.6"/>
<line x1="29.8" y1="580.95" x2="34.08" y2="577.65" stroke="#555" stroke-width="0.6"/>
<line x1="108.8" y1="520.05" x2="114.12" y2="520.95" stroke="#555" stroke-width="0.6"/>
<line x1="108.8" y1="520.05" x2="104.52" y2="523.34" stroke="#555" stroke-width="0.6"/>
<line x1="278.2" y1="548.85" x2="272.88" y2="547.94" stroke="#555" stroke-width="0.6"/>
<line x1="278.2" y1="548.85" x2="273.92" y2="552.14" stroke="#555" stroke-width="0.6"/>
<line x1="29.8" y1="526.89" x2="35.12" y2="527.8" stroke="#555" stroke-width="0.6"/>
<line x1="29.8" y1="526.89" x2="34.08" y2="523.6" stroke="#555" stroke-width="0.6"/>
<line x1="108.8" y1="465.99" x2="114.12" y2="466.9" stroke="#555" stroke-width="0.6"/>
<line x1="108.8" y1="465.99" x2="104.52" y2="469.29" stroke="#555" stroke-width="0.6"/>
<line x1="278.2" y1="494.79" x2="272.88" y2="493.89" stroke="#555" stroke-width="0.6"/>
<line x1="278.2" y1="494.79" x2="273.92" y2="498.09" stroke="#555" stroke-width="0.6"/>
<line x1="29.8" y1="635" x2="29.8" y2="518.3" stroke="#333" stroke-width="1.0"/>
<line x1="29.8" y1="518.3" x2="108.8" y2="457.4" stroke="#333" stroke-width="1.0"/>
<line x1="108.8" y1="574.1" x2="108.8" y2="457.4" stroke="#333" stroke-width="1.0"/>
<line x1="108.8" y1="457.4" x2="278.2" y2="486.2" stroke="#333" stroke-width="1.0"/>
<line x1="278.2" y1="602.9" x2="278.2" y2="486.2" stroke="#333" stroke-width="1.0"/>
<line x1="29.8" y1="635" x2="108.8" y2="574.1" stroke="#333" stroke-width="1.0"/>
<line x1="108.8" y1="574.1" x2="278.2" y2="602.9" stroke="#333" stroke-width="1.0"/>
<line x1="29.8" y1="635" x2="199.2" y2="663.8" stroke="#333" stroke-width="1.0"/>
<line x1="199.2" y1="663.8" x2="278.2" y2="602.9" stroke="#333" stroke-width="1.0"/>
<line x1="332.77" y1="634.36" x2="337.05" y2="631.07" stroke="#555" stroke-width="0.6"/>
<line x1="332.77" y1="634.36" x2="332.77" y2="628.96" stroke="#555" stroke-width="0.6"/>
<line x1="410.77" y1="574.36" x2="406.49" y2="577.66" stroke="#555" stroke-width="0.6"/>
<line x1="410.77" y1="574.36" x2="410.77" y2="568.96" stroke="#555" stroke-width="0.6"/>
<line x1="410.77" y1="458.36" x2="406.49" y2="461.66" stroke="#555" stroke-width="0.6"/>
<line x1="410.77" y1="458.36" x2="410.77" y2="463.76" stroke="#555" stroke-width="0.6"/>
<line x1="387.68" y1="643.54" x2="391.97" y2="640.25" stroke="#555" stroke-width="0.6"/>
<line x1="387.68" y1="643.54" x2="387.68" y2="638.14" stroke="#555" stroke-width="0.6"/>
<line x1="465.68" y1="583.54" x2="461.4" y2="586.83" stroke="#555" stroke-width="0.6"/>
<line x1="465.68" y1="583.54" x2="465.68" y2="578.14" stroke="#555" stroke-width="0.6"/>
<line x1="465.68" y1="467.54" x2="461.4" y2="470.83" stroke="#555" stroke-width="0.6"/>
<line x1="465.68" y1="467.54" x2="465.68" y2="472.94" stroke="#555" stroke-width="0.6"/>
<line x1="442.6" y1="652.71" x2="446.88" y2="649.42" stroke="#555" stroke-width="0.6"/>
<line x1="442.6" y1="652.71" x2="442.6" y2="647.31" stroke="#555" stroke-width="0.6"/>
<line x1="520.6" y1="592.71" x2="516.32" y2="596.01" stroke="#555" stroke-width="0.6"/>
<line x1="520.6" y1="592.71" x2="520.6" y2="587.31" stroke="#555" stroke-width="0.6"/>
<line x1="520.6" y1="476.71" x2="516.32" y2="480.01" stroke="#555" stroke-width="0.6"/>
<line x1="520.6" y1="476.71" x2="520.6" y2="482.11" stroke="#555" stroke-width="0.6"/>
<line x1="494" y1="661.3" x2="488.67" y2="660.41" stroke="#555" stroke-width="0.6"/>
<line x1="494" y1="661.3" x2="494" y2="655.9" stroke="#555" stroke-width="0.6"/>
<line x1="326.4" y1="633.3" x2="331.73" y2="634.19" stroke="#555" stroke-width="0.6"/>
<line x1="326.4" y1="633.3" x2="326.4" y2="627.9" stroke="#555" stroke-width="0.6"/>
<line x1="326.4" y1="517.3" x2="331.73" y2="518.19" stroke="#555" stroke-width="0.6"/>
<line x1="326.4" y1="517.3" x2="326.4" y2="522.7" stroke="#555" stroke-width="0.6"/>
<line x1="509.6" y1="649.3" x2="504.27" y2="648.41" stroke="#555" stroke-width="0.6"/>
<line x1="509.6" y1="649.3" x2="509.6" y2="643.9" stroke="#555" stroke-width="0.6"/>
<line x1="342" y1="621.3" x2="347.33" y2="622.19" stroke="#555" stroke-width="0.6"/>
<line x1="342" y1="621.3" x2="342" y2="615.9" stroke="#555" stroke-width="0.6"/>
<line x1="342" y1="505.3" x2="347.33" y2="506.19" stroke="#555" stroke-width="0.6"/>
<line x1="342" y1="505.3" x2="342" y2="510.7" stroke="#555" stroke-width="0.6"/>
<line x1="525.2" y1="637.3" x2="519.87" y2="636.41" stroke="#555" stroke-width="0.6"/>
<line x1="525.2" y1="637.3" x2="525.2" y2="631.9" stroke="#555" stroke-width="0.6"/>
<line x1="357.6" y1="609.3" x2="362.93" y2="610.19" stroke="#555" stroke-width="0.6"/>
<line x1="357.6" y1="609.3" x2="357.6" y2="603.9" stroke="#555" stroke-width="0.6"/>
<line x1="357.6" y1="493.3" x2="362.93" y2="494.19" stroke="#555" stroke-width="0.6"/>
<line x1="357.6" y1="493.3" x2="357.6" y2="498.7" stroke="#555" stroke-width="0.6"/>
<line x1="540.8" y1="625.3" x2="535.47" y2="624.41" stroke="#555" stroke-width="0.6"/>
<line x1="540.8" y1="625.3" x2="540.8" y2="619.9" stroke="#555" stroke-width="0.6"/>
<line x1="373.2" y1="597.3" x2="378.53" y2="598.19" stroke="#555" stroke-width="0.6"/>
<line x1="373.2" y1="597.3" x2="373.2" y2="591.9" stroke="#555" stroke-width="0.6"/>
<line x1="373.2" y1="481.3" x2="378.53" y2="482.19" stroke="#555" stroke-width="0.6"/>
<line x1="373.2" y1="481.3" x2="373.2" y2="486.7" stroke="#555" stroke-width="0.6"/>
<line x1="556.4" y1="613.3" x2="551.07" y2="612.41" stroke="#555" stroke-width="0.6"/>
<line x1="556.4" y1="613.3" x2="556.4" y2="607.9" stroke="#555" stroke-width="0.6"/>
<line x1="388.8" y1="585.3" x2="394.13" y2="586.19" stroke="#555" stroke-width="0.6"/>
<line x1="388.8" y1="585.3" x2="388.8" y2="579.9" stroke="#555" stroke-width="0.6"/>
<line x1="388.8" y1="469.3" x2="394.13" y2="470.19" stroke="#555" stroke-width="0.6"/>
<line x1="388.8" y1="469.3" x2="388.8" y2="474.7" stroke="#555" stroke-width="0.6"/>
<line x1="572" y1="601.3" x2="566.67" y2="600.41" stroke="#555" stroke-width="0.6"/>
<line x1="572" y1="601.3" x2="572" y2="595.9" stroke="#555" stroke-width="0.6"/>
<line x1="404.4" y1="573.3" x2="409.73" y2="574.19" stroke="#555" stroke-width="0.6"/>
<line x1="404.4" y1="573.3" x2="404.4" y2="567.9" stroke="#555" stroke-width="0.6"/>
<line x1="404.4" y1="457.3" x2="409.73" y2="458.19" stroke="#555" stroke-width="0.6"/>
<line x1="404.4" y1="457.3" x2="404.4" y2="462.7" stroke="#555" stroke-width="0.6"/>
<line x1="326.4" y1="633.3" x2="331.73" y2="634.19" stroke="#555" stroke-width="0.6"/>
<line x1="326.4" y1="633.3" x2="330.68" y2="630.01" stroke="#555" stroke-width="0.6"/>
<line x1="404.4" y1="573.3" x2="409.73" y2="574.19" stroke="#555" stroke-width="0.6"/>
<line x1="404.4" y1="573.3" x2="400.12" y2="576.59" stroke="#555" stroke-width="0.6"/>
<line x1="572" y1="601.3" x2="566.67" y2="600.41" stroke="#555" stroke-width="0.6"/>
<line x1="572" y1="601.3" x2="567.72" y2="604.59" stroke="#555" stroke-width="0.6"/>
<line x1="326.4" y1="561.52" x2="331.73" y2="562.41" stroke="#555" stroke-width="0.6"/>
<line x1="326.4" y1="561.52" x2="330.68" y2="558.23" stroke="#555" stroke-width="0.6"/>
<line x1="404.4" y1="501.52" x2="409.73" y2="502.41" stroke="#555" stroke-width="0.6"/>
<line x1="404.4" y1="501.52" x2="400.12" y2="504.81" stroke="#555" stroke-width="0.6"/>
<line x1="572" y1="529.52" x2="566.67" y2="528.63" stroke="#555" stroke-width="0.6"/>
<line x1="572" y1="529.52" x2="567.72" y2="532.81" stroke="#555" stroke-width="0.6"/>
<line x1="326.4" y1="633.3" x2="326.4" y2="517.3" stroke="#333" stroke-width="1.0"/>
<line x1="326.4" y1="517.3" x2="404.4" y2="457.3" stroke="#333" stroke-width="1.0"/>
<line x1="404.4" y1="573.3" x2="404.4" y2="457.3" stroke="#333" stroke-width="1.0"/>
<line x1="404.4" y1="457.3" x2="572" y2="485.3" stroke="#333" stroke-width="1.0"/>
<line x1="572" y1="601.3" x2="572" y2="485.3" stroke="#333" stroke-width="1.0"/>
<line x1="326.4" y1="633.3" x2="404.4" y2="573.3" stroke="#333" stroke-width="1.0"/>
<line x1="404.4" y1="573.3" x2="572" y2="601.3" stroke="#333" stroke-width="1.0"/>
<line x1="326.4" y1="633.3" x2="494" y2="661.3" stroke="#333" stroke-width="1.0"/>
<line x1="494" y1="661.3" x2="572" y2="601.3" stroke="#333" stroke-width="1.0"/>
<path d="M115.5 114.9 L116.53 115.07 L117.56 115.24 L118.58 115.41 L119.61 115.58 L120.64 115.74 L121.67 115.91 L122.7 116.07 L123.73 116.23 L124.75 116.4 L125.78 116.56 L126.81 116.72 L127.84 116.88 L128.87 117.04 L129.9 117.19 L130.92 117.35 L131.95 117.5 L132.98 117.65 L134.01 117.79 L135.04 117.94 L136.07 118.08 L137.09 118.21 L138.12 118.35 L139.15 118.47 L140.18 118.56 L141.21 118.62 L142.24 118.65 L143.26 118.65 L144.29 118.63 L145.32 118.59 L146.35 118.53 L147.38 118.46 L148.41 118.37 L149.43 118.27 L150.46 118.12 L151.49 117.9 L152.52 117.63 L153.55 117.29 L154.58 116.91 L155.6 116.47 L156.63 116 L157.66 115.48 L158.69 114.94 L159.72 114.36 L160.75 113.75 L161.77 113.02 L162.8 112.18 L163.83 111.24 L164.86 110.21 L165.89 109.13 L166.92 108 L167.94 106.85 L168.97 105.69 L170 104.55 L171.03 103.43 L172.06 102.32 L173.08 101.17 L174.11 99.99 L175.14 98.81 L176.17 97.62 L177.2 96.45 L178.23 95.31 L179.25 94.15 L180.28 92.99 L181.31 91.84 L182.34 90.7 L183.37 89.58 L184.4 88.49 L185.42 87.43 L186.45 86.41 L187.48 85.49 L188.51 84.72 L189.54 84.11 L190.57 83.67 L191.59 83.39 L192.62 83.33 L193.65 83.41 L194.68 83.64 L195.71 83.99 L196.74 84.43 L197.76 84.98 L198.79 85.85 L199.82 87.06 L200.85 88.5 L201.88 90.09 L202.91 91.72 L203.93 93.29 L204.96 94.76 L205.99 96.24 L207.02 97.75 L208.05 99.27 L209.08 100.79 L210.1 102.3 L211.13 103.78 L212.16 105.26 L213.19 106.74 L214.22 108.2 L215.25 109.64 L216.27 111.04 L217.3 112.43 L218.33 113.83 L219.36 115.17 L220.39 116.39 L221.42 117.43 L222.44 118.36 L223.47 119.22 L224.5 120.05 L225.53 120.91 L226.56 121.75 L227.58 122.59 L228.61 123.41 L229.64 124.25 L230.67 125.1 L231.7 126 L232.73 126.98 L233.75 128 L234.78 129.02 L235.81 129.98 L236.84 130.86 L237.87 131.59 L238.9 132.17 L239.92 132.72 L240.95 133.24 L241.98 133.69 L243.01 134.05 L244.04 134.29 L245.07 134.46 L246.09 134.61 L247.12 134.75 L248.15 134.89 L249.18 135.02 L250.21 135.16 L251.24 135.3 L252.26 135.45 L253.29 135.62 L254.32 135.81 L255.35 136.04 L256.38 136.3 L257.41 136.57 L258.43 136.85 L259.46 137.14 L260.49 137.42 L261.52 137.69 L262.55 137.97 L263.58 138.25 L264.6 138.54 L265.63 138.83 L266.66 139.12 L267.69 139.41 L268.72 139.71 L269.75 140 L270.77 140.29 L271.8 140.58 L272.83 140.87 L273.86 141.16 L274.89 141.45 L275.92 141.73 L276.94 142.02 L277.97 142.31 L279 142.6 L279 142.6 L115.5 114.9 Z" fill="#ff0000" stroke="#b80000" stroke-width="0.6" stroke-linejoin="round"/>
<path d="M109.41 137.73 L110.11 137.78 L110.81 137.84 L111.51 137.88 L112.21 137.93 L112.91 137.97 L113.61 138.01 L114.31 138.05 L115.01 138.08 L115.72 138.12 L116.42 138.16 L117.12 138.19 L117.82 138.22 L118.52 138.24 L119.22 138.26 L119.92 138.27 L120.62 138.28 L121.32 138.28 L122.02 138.27 L122.72 138.25 L123.42 138.21 L124.12 138.17 L124.82 138.1 L125.52 137.99 L126.22 137.86 L126.92 137.69 L127.62 137.49 L128.32 137.26 L129.02 137.01 L129.73 136.74 L130.43 136.44 L131.13 136.12 L131.83 135.78 L132.53 135.43 L133.23 135.06 L133.93 134.67 L134.63 134.28 L135.33 133.86 L136.03 133.37 L136.73 132.83 L137.43 132.22 L138.13 131.57 L138.83 130.87 L139.53 130.13 L140.23 129.37 L140.93 128.58 L141.63 127.77 L142.33 126.95 L143.04 126.08 L143.74 125.15 L144.44 124.17 L145.14 123.15 L145.84 122.08 L146.54 120.99 L147.24 119.88 L147.94 118.75 L148.64 117.61 L149.34 116.48 L150.04 115.36 L150.74 114.25 L151.44 113.14 L152.14 111.99 L152.84 110.79 L153.54 109.57 L154.24 108.32 L154.94 107.08 L155.64 105.84 L156.34 104.63 L157.05 103.46 L157.75 102.33 L158.45 101.27 L159.15 100.28 L159.85 99.38 L160.55 98.59 L161.25 97.88 L161.95 97.23 L162.65 96.63 L163.35 96.08 L164.05 95.54 L164.75 95.03 L165.45 94.51 L166.15 93.98 L166.85 93.43 L167.55 92.84 L168.25 92.29 L168.95 91.9 L169.65 91.66 L170.35 91.57 L171.06 91.62 L171.76 91.8 L172.46 92.07 L173.16 92.46 L173.86 92.95 L174.56 93.53 L175.26 94.21 L175.96 94.99 L176.66 95.87 L177.36 96.81 L178.06 97.81 L178.76 98.88 L179.46 100.02 L180.16 101.22 L180.86 102.53 L181.56 104 L182.26 105.58 L182.96 107.23 L183.66 108.89 L184.37 110.53 L185.07 112.11 L185.77 113.67 L186.47 115.22 L187.17 116.78 L187.87 118.35 L188.57 119.93 L189.27 121.53 L189.97 123.15 L190.67 124.8 L191.37 126.45 L192.07 128.09 L192.77 129.72 L193.47 131.33 L194.17 132.93 L194.87 134.54 L195.57 136.16 L196.27 137.84 L196.97 139.61 L197.67 141.36 L198.38 142.98 L199.08 144.38 L199.78 145.68 L200.48 146.93 L201.18 148.11 L201.88 149.16 L202.58 150.05 L203.28 150.75 L203.98 151.31 L204.68 151.84 L205.38 152.33 L206.08 152.78 L206.78 153.18 L207.48 153.52 L208.18 153.8 L208.88 154.01 L209.58 154.19 L210.28 154.37 L210.98 154.55 L211.69 154.72 L212.39 154.89 L213.09 155.05 L213.79 155.21 L214.49 155.37 L215.19 155.52 L215.89 155.67 L216.59 155.81 L217.29 155.95 L217.99 156.09 L218.69 156.22 L219.39 156.35 L220.09 156.48 L220.79 156.6 L220.79 156.6 L109.41 137.73 Z" fill="#ff0000" stroke="#b80000" stroke-width="0.6" stroke-linejoin="round"/>
<path d="M105.95 161 L106.38 161.07 L106.82 161.13 L107.25 161.18 L107.69 161.23 L108.12 161.28 L108.56 161.32 L108.99 161.35 L109.43 161.39 L109.86 161.42 L110.3 161.44 L110.74 161.45 L111.17 161.46 L111.61 161.45 L112.04 161.43 L112.48 161.39 L112.91 161.35 L113.35 161.3 L113.78 161.24 L114.22 161.17 L114.66 161.08 L115.09 160.99 L115.53 160.89 L115.96 160.77 L116.4 160.65 L116.83 160.51 L117.27 160.34 L117.7 160.09 L118.14 159.78 L118.58 159.4 L119.01 158.98 L119.45 158.51 L119.88 158 L120.32 157.47 L120.75 156.9 L121.19 156.27 L121.62 155.57 L122.06 154.78 L122.5 153.91 L122.93 152.95 L123.37 151.91 L123.8 150.76 L124.24 149.52 L124.67 147.89 L125.11 145.84 L125.54 143.54 L125.98 141.12 L126.42 138.75 L126.85 136.58 L127.29 134.77 L127.72 133.32 L128.16 132.07 L128.59 130.92 L129.03 129.76 L129.46 128.49 L129.9 127.03 L130.33 125.45 L130.77 123.77 L131.21 121.96 L131.64 119.98 L132.08 117.82 L132.51 115.33 L132.95 112.54 L133.38 109.56 L133.82 106.52 L134.25 103.35 L134.69 100.01 L135.13 96.56 L135.56 93 L136 89.14 L136.43 85.44 L136.87 82.33 L137.3 79.59 L137.74 77.11 L138.17 74.93 L138.61 73.1 L139.05 71.59 L139.48 70.23 L139.92 68.99 L140.35 67.93 L140.79 67.02 L141.22 66.31 L141.66 65.74 L142.09 65.41 L142.53 65.23 L142.97 65.22 L143.4 65.49 L143.84 65.93 L144.27 66.69 L144.71 67.66 L145.14 68.9 L145.58 70.34 L146.01 72.02 L146.45 73.85 L146.88 75.95 L147.32 78.51 L147.76 81.48 L148.19 84.71 L148.63 88.07 L149.06 91.43 L149.5 94.63 L149.93 97.64 L150.37 100.6 L150.8 103.53 L151.24 106.43 L151.68 109.29 L152.11 112.11 L152.55 114.93 L152.98 117.77 L153.42 120.59 L153.85 123.33 L154.29 125.95 L154.72 128.38 L155.16 130.62 L155.6 132.73 L156.03 134.73 L156.47 136.66 L156.9 138.54 L157.34 140.4 L157.77 142.24 L158.21 144.01 L158.64 145.74 L159.08 147.45 L159.52 149.15 L159.95 150.88 L160.39 152.7 L160.82 154.69 L161.26 156.73 L161.69 158.68 L162.13 160.4 L162.56 161.76 L163 162.77 L163.43 163.72 L163.87 164.6 L164.31 165.42 L164.74 166.17 L165.18 166.85 L165.61 167.47 L166.05 168.01 L166.48 168.48 L166.92 168.87 L167.35 169.19 L167.79 169.48 L168.23 169.75 L168.66 170 L169.1 170.23 L169.53 170.46 L169.97 170.66 L170.4 170.86 L170.84 171.05 L171.27 171.24 L171.71 171.42 L172.15 171.6 L172.58 171.78 L173.02 171.95 L173.45 172.12 L173.89 172.28 L174.32 172.44 L174.76 172.59 L175.19 172.73 L175.19 172.73 L105.95 161 Z" fill="#ff0000" stroke="#b80000" stroke-width="0.6" stroke-linejoin="round"/>
<path d="M88.63 181.92 L88.98 181.98 L89.33 182.03 L89.68 182.07 L90.02 182.11 L90.37 182.14 L90.72 182.17 L91.07 182.19 L91.42 182.21 L91.77 182.22 L92.11 182.22 L92.46 182.22 L92.81 182.22 L93.16 182.21 L93.51 182.19 L93.86 182.17 L94.2 182.15 L94.55 182.12 L94.9 182.09 L95.25 182.03 L95.6 181.9 L95.95 181.71 L96.3 181.48 L96.64 181.2 L96.99 180.89 L97.34 180.55 L97.69 180.2 L98.04 179.83 L98.39 179.42 L98.73 178.97 L99.08 178.47 L99.43 177.91 L99.78 177.29 L100.13 176.61 L100.48 175.84 L100.82 174.99 L101.17 174.04 L101.52 173 L101.87 171.85 L102.22 170.42 L102.57 168.29 L102.92 165.58 L103.26 162.41 L103.61 158.94 L103.96 155.29 L104.31 151.36 L104.66 146.56 L105.01 141.22 L105.35 135.73 L105.7 130.49 L106.05 125.82 L106.4 121.25 L106.75 116.72 L107.1 112.36 L107.44 108.28 L107.79 104.59 L108.14 101.41 L108.49 98.56 L108.84 95.84 L109.19 93.41 L109.54 91.44 L109.88 90.1 L110.23 89.23 L110.58 88.45 L110.93 87.83 L111.28 87.42 L111.63 87.28 L111.97 87.34 L112.32 87.41 L112.67 87.48 L113.02 87.56 L113.37 87.64 L113.72 87.72 L114.06 87.8 L114.41 87.87 L114.76 87.95 L115.11 88.02 L115.46 88.08 L115.81 87.96 L116.16 87.24 L116.5 86.6 L116.85 86.12 L117.2 85.71 L117.55 85.35 L117.9 85.06 L118.25 84.84 L118.59 84.67 L118.94 84.59 L119.29 84.55 L119.64 84.58 L119.99 84.83 L120.34 85.42 L120.68 86.34 L121.03 87.57 L121.38 89.1 L121.73 90.92 L122.08 92.92 L122.43 95.06 L122.78 97.31 L123.12 99.64 L123.47 102.03 L123.82 104.55 L124.17 107.19 L124.52 109.91 L124.87 112.69 L125.21 115.58 L125.56 118.63 L125.91 121.7 L126.26 124.65 L126.61 127.29 L126.96 129.58 L127.3 132.03 L127.65 135.23 L128 140.02 L128.35 145.54 L128.7 150.44 L129.05 154.33 L129.4 157.93 L129.74 161.22 L130.09 164.2 L130.44 166.87 L130.79 169.41 L131.14 171.83 L131.49 174.08 L131.83 176.1 L132.18 177.82 L132.53 179.19 L132.88 180.35 L133.23 181.45 L133.58 182.47 L133.92 183.41 L134.27 184.27 L134.62 185.03 L134.97 185.69 L135.32 186.24 L135.67 186.67 L136.02 187 L136.36 187.3 L136.71 187.58 L137.06 187.84 L137.41 188.08 L137.76 188.31 L138.11 188.52 L138.45 188.72 L138.8 188.91 L139.15 189.09 L139.5 189.26 L139.85 189.43 L140.2 189.6 L140.54 189.76 L140.89 189.93 L141.24 190.1 L141.59 190.27 L141.94 190.43 L142.29 190.59 L142.64 190.74 L142.98 190.89 L143.33 191.04 L143.68 191.18 L144.03 191.31 L144.03 191.31 L88.63 181.92 Z" fill="#ff0000" stroke="#b80000" stroke-width="0.6" stroke-linejoin="round"/>
<path d="M541.12 138.48 L541.3 138.5 L541.48 138.52 L541.66 138.53 L541.84 138.54 L542.02 138.55 L542.2 138.55 L542.38 138.56 L542.56 138.56 L542.74 138.56 L542.92 138.56 L543.1 138.55 L543.28 138.55 L543.46 138.54 L543.64 138.53 L543.82 138.52 L544 138.5 L544.18 138.48 L544.37 138.45 L544.55 138.42 L544.73 138.39 L544.91 138.36 L545.09 138.33 L545.27 138.29 L545.45 138.26 L545.63 138.23 L545.81 138.2 L545.99 138.16 L546.17 138.13 L546.35 138.1 L546.53 138.06 L546.71 138.03 L546.89 137.99 L547.07 137.95 L547.25 137.9 L547.43 137.86 L547.61 137.8 L547.79 137.75 L547.97 137.69 L548.15 137.63 L548.33 137.57 L548.52 137.49 L548.7 137.42 L548.88 137.33 L549.06 137.24 L549.24 137.14 L549.42 137.03 L549.6 136.89 L549.78 136.74 L549.96 136.57 L550.14 136.38 L550.32 136.18 L550.5 135.98 L550.68 135.76 L550.86 135.53 L551.04 135.31 L551.22 135.08 L551.4 134.8 L551.58 134.5 L551.76 134.21 L551.94 133.95 L552.12 133.75 L552.3 133.6 L552.48 133.46 L552.67 133.35 L552.85 133.24 L553.03 133.15 L553.21 133.08 L553.39 133.01 L553.57 132.97 L553.75 132.93 L553.93 132.91 L554.11 132.9 L554.29 132.89 L554.47 132.9 L554.65 132.92 L554.83 132.96 L555.01 133 L555.19 133.04 L555.37 133.1 L555.55 133.17 L555.73 133.24 L555.91 133.32 L556.09 133.41 L556.27 133.5 L556.45 133.6 L556.63 133.7 L556.82 133.8 L557 133.92 L557.18 134.05 L557.36 134.2 L557.54 134.39 L557.72 134.67 L557.9 135.03 L558.08 135.42 L558.26 135.83 L558.44 136.22 L558.62 136.57 L558.8 136.85 L558.98 137.1 L559.16 137.34 L559.34 137.57 L559.52 137.8 L559.7 138.01 L559.88 138.22 L560.06 138.41 L560.24 138.59 L560.42 138.77 L560.6 138.92 L560.78 139.07 L560.96 139.21 L561.15 139.34 L561.33 139.47 L561.51 139.59 L561.69 139.7 L561.87 139.81 L562.05 139.92 L562.23 140.03 L562.41 140.13 L562.59 140.23 L562.77 140.32 L562.95 140.41 L563.13 140.5 L563.31 140.59 L563.49 140.68 L563.67 140.76 L563.85 140.84 L564.03 140.92 L564.21 140.99 L564.39 141.07 L564.57 141.14 L564.75 141.21 L564.93 141.28 L565.11 141.36 L565.3 141.43 L565.48 141.5 L565.66 141.58 L565.84 141.65 L566.02 141.73 L566.2 141.81 L566.38 141.88 L566.56 141.96 L566.74 142.04 L566.92 142.12 L567.1 142.2 L567.28 142.27 L567.46 142.35 L567.64 142.42 L567.82 142.49 L568 142.57 L568.18 142.64 L568.36 142.71 L568.54 142.78 L568.72 142.84 L568.9 142.91 L569.08 142.98 L569.26 143.04 L569.45 143.11 L569.63 143.17 L569.81 143.24 L569.81 143.24 L541.12 138.48 Z" fill="#ff0000" stroke="#b80000" stroke-width="0.6" stroke-linejoin="round"/>
<path d="M521.27 145.56 L521.44 145.58 L521.62 145.59 L521.79 145.6 L521.96 145.61 L522.14 145.61 L522.31 145.61 L522.48 145.61 L522.65 145.61 L522.83 145.6 L523 145.59 L523.17 145.59 L523.35 145.58 L523.52 145.57 L523.69 145.55 L523.87 145.53 L524.04 145.51 L524.21 145.47 L524.39 145.44 L524.56 145.4 L524.73 145.37 L524.91 145.32 L525.08 145.28 L525.25 145.24 L525.42 145.2 L525.6 145.16 L525.77 145.12 L525.94 145.08 L526.12 145.04 L526.29 145 L526.46 144.95 L526.64 144.91 L526.81 144.86 L526.98 144.81 L527.16 144.76 L527.33 144.7 L527.5 144.64 L527.68 144.57 L527.85 144.5 L528.02 144.43 L528.2 144.35 L528.37 144.27 L528.54 144.18 L528.71 144.08 L528.89 143.97 L529.06 143.85 L529.23 143.72 L529.41 143.57 L529.58 143.4 L529.75 143.2 L529.93 142.99 L530.1 142.76 L530.27 142.52 L530.45 142.28 L530.62 142.02 L530.79 141.77 L530.97 141.51 L531.14 141.2 L531.31 140.86 L531.48 140.52 L531.66 140.23 L531.83 140 L532 139.83 L532.18 139.67 L532.35 139.54 L532.52 139.42 L532.7 139.31 L532.87 139.22 L533.04 139.15 L533.22 139.09 L533.39 139.05 L533.56 139.02 L533.74 139 L533.91 138.99 L534.08 139 L534.25 139.02 L534.43 139.05 L534.6 139.09 L534.77 139.14 L534.95 139.2 L535.12 139.26 L535.29 139.34 L535.47 139.43 L535.64 139.52 L535.81 139.62 L535.99 139.72 L536.16 139.83 L536.33 139.94 L536.51 140.07 L536.68 140.21 L536.85 140.37 L537.02 140.57 L537.2 140.89 L537.37 141.28 L537.54 141.71 L537.72 142.16 L537.89 142.59 L538.06 142.98 L538.24 143.28 L538.41 143.56 L538.58 143.82 L538.76 144.08 L538.93 144.32 L539.1 144.56 L539.28 144.78 L539.45 144.99 L539.62 145.19 L539.8 145.38 L539.97 145.55 L540.14 145.71 L540.31 145.86 L540.49 146 L540.66 146.14 L540.83 146.27 L541.01 146.39 L541.18 146.51 L541.35 146.63 L541.53 146.74 L541.7 146.85 L541.87 146.95 L542.05 147.05 L542.22 147.15 L542.39 147.25 L542.57 147.34 L542.74 147.43 L542.91 147.52 L543.08 147.6 L543.26 147.69 L543.43 147.77 L543.6 147.84 L543.78 147.92 L543.95 148 L544.12 148.07 L544.3 148.15 L544.47 148.22 L544.64 148.3 L544.82 148.38 L544.99 148.46 L545.16 148.54 L545.34 148.62 L545.51 148.7 L545.68 148.79 L545.85 148.87 L546.03 148.95 L546.2 149.03 L546.37 149.11 L546.55 149.19 L546.72 149.27 L546.89 149.35 L547.07 149.42 L547.24 149.49 L547.41 149.57 L547.59 149.64 L547.76 149.71 L547.93 149.78 L548.11 149.85 L548.28 149.92 L548.45 149.99 L548.62 150.05 L548.8 150.12 L548.8 150.12 L521.27 145.56 Z" fill="#ff0000" stroke="#b80000" stroke-width="0.6" stroke-linejoin="round"/>
<path d="M500.61 152.5 L500.77 152.52 L500.94 152.52 L501.1 152.53 L501.27 152.53 L501.43 152.53 L501.6 152.52 L501.76 152.52 L501.93 152.51 L502.09 152.49 L502.26 152.48 L502.42 152.47 L502.58 152.45 L502.75 152.43 L502.91 152.41 L503.08 152.38 L503.24 152.34 L503.41 152.3 L503.57 152.25 L503.74 152.2 L503.9 152.15 L504.06 152.1 L504.23 152.04 L504.39 151.99 L504.56 151.93 L504.72 151.88 L504.89 151.83 L505.05 151.77 L505.22 151.72 L505.38 151.67 L505.55 151.61 L505.71 151.55 L505.87 151.49 L506.04 151.42 L506.2 151.35 L506.37 151.28 L506.53 151.2 L506.7 151.12 L506.86 151.03 L507.03 150.94 L507.19 150.84 L507.35 150.74 L507.52 150.63 L507.68 150.51 L507.85 150.37 L508.01 150.23 L508.18 150.07 L508.34 149.89 L508.51 149.68 L508.67 149.45 L508.84 149.19 L509 148.92 L509.16 148.64 L509.33 148.34 L509.49 148.04 L509.66 147.74 L509.82 147.42 L509.99 147.06 L510.15 146.65 L510.32 146.26 L510.48 145.91 L510.65 145.64 L510.81 145.43 L510.97 145.25 L511.14 145.08 L511.3 144.93 L511.47 144.81 L511.63 144.7 L511.8 144.6 L511.96 144.53 L512.13 144.47 L512.29 144.43 L512.45 144.4 L512.62 144.39 L512.78 144.39 L512.95 144.4 L513.11 144.43 L513.28 144.47 L513.44 144.53 L513.61 144.59 L513.77 144.66 L513.94 144.74 L514.1 144.84 L514.26 144.94 L514.43 145.05 L514.59 145.16 L514.76 145.28 L514.92 145.41 L515.09 145.55 L515.25 145.7 L515.42 145.88 L515.58 146.12 L515.74 146.48 L515.91 146.93 L516.07 147.43 L516.24 147.95 L516.4 148.45 L516.57 148.89 L516.73 149.24 L516.9 149.55 L517.06 149.85 L517.23 150.15 L517.39 150.43 L517.55 150.69 L517.72 150.95 L517.88 151.19 L518.05 151.42 L518.21 151.63 L518.38 151.82 L518.54 152 L518.71 152.17 L518.87 152.33 L519.04 152.48 L519.2 152.63 L519.36 152.76 L519.53 152.9 L519.69 153.03 L519.86 153.15 L520.02 153.27 L520.19 153.39 L520.35 153.5 L520.52 153.61 L520.68 153.71 L520.84 153.82 L521.01 153.92 L521.17 154.01 L521.34 154.11 L521.5 154.19 L521.67 154.28 L521.83 154.37 L522 154.45 L522.16 154.53 L522.33 154.61 L522.49 154.69 L522.65 154.78 L522.82 154.86 L522.98 154.94 L523.15 155.03 L523.31 155.12 L523.48 155.21 L523.64 155.3 L523.81 155.39 L523.97 155.48 L524.13 155.57 L524.3 155.66 L524.46 155.75 L524.63 155.83 L524.79 155.92 L524.96 156 L525.12 156.08 L525.29 156.16 L525.45 156.24 L525.62 156.32 L525.78 156.4 L525.94 156.47 L526.11 156.55 L526.27 156.62 L526.44 156.69 L526.6 156.77 L526.77 156.84 L526.77 156.84 L500.61 152.5 Z" fill="#ff0000" stroke="#b80000" stroke-width="0.6" stroke-linejoin="round"/>
<path d="M480.43 159.53 L480.58 159.53 L480.73 159.54 L480.88 159.54 L481.03 159.53 L481.18 159.53 L481.33 159.51 L481.48 159.5 L481.63 159.48 L481.78 159.47 L481.92 159.44 L482.07 159.42 L482.22 159.4 L482.37 159.37 L482.52 159.34 L482.67 159.3 L482.82 159.25 L482.97 159.2 L483.12 159.14 L483.27 159.08 L483.42 159.02 L483.57 158.96 L483.72 158.89 L483.87 158.82 L484.02 158.76 L484.17 158.69 L484.32 158.63 L484.47 158.56 L484.62 158.5 L484.77 158.43 L484.92 158.36 L485.06 158.29 L485.21 158.21 L485.36 158.14 L485.51 158.05 L485.66 157.97 L485.81 157.87 L485.96 157.78 L486.11 157.67 L486.26 157.57 L486.41 157.45 L486.56 157.33 L486.71 157.2 L486.86 157.06 L487.01 156.91 L487.16 156.74 L487.31 156.56 L487.46 156.35 L487.61 156.11 L487.76 155.84 L487.91 155.56 L488.06 155.25 L488.2 154.93 L488.35 154.59 L488.5 154.25 L488.65 153.91 L488.8 153.55 L488.95 153.14 L489.1 152.68 L489.25 152.24 L489.4 151.84 L489.55 151.53 L489.7 151.3 L489.85 151.09 L490 150.9 L490.15 150.73 L490.3 150.58 L490.45 150.45 L490.6 150.34 L490.75 150.26 L490.9 150.19 L491.05 150.13 L491.2 150.1 L491.34 150.07 L491.49 150.07 L491.64 150.08 L491.79 150.11 L491.94 150.15 L492.09 150.2 L492.24 150.26 L492.39 150.34 L492.54 150.43 L492.69 150.52 L492.84 150.64 L492.99 150.75 L493.14 150.87 L493.29 151 L493.44 151.13 L493.59 151.28 L493.74 151.45 L493.89 151.65 L494.04 151.9 L494.19 152.3 L494.33 152.79 L494.48 153.35 L494.63 153.92 L494.78 154.47 L494.93 154.95 L495.08 155.34 L495.23 155.68 L495.38 156.01 L495.53 156.33 L495.68 156.64 L495.83 156.93 L495.98 157.21 L496.13 157.47 L496.28 157.72 L496.43 157.95 L496.58 158.16 L496.73 158.36 L496.88 158.54 L497.03 158.71 L497.18 158.87 L497.33 159.03 L497.47 159.18 L497.62 159.32 L497.77 159.46 L497.92 159.59 L498.07 159.72 L498.22 159.84 L498.37 159.96 L498.52 160.08 L498.67 160.19 L498.82 160.3 L498.97 160.41 L499.12 160.51 L499.27 160.6 L499.42 160.7 L499.57 160.79 L499.72 160.88 L499.87 160.96 L500.02 161.05 L500.17 161.14 L500.32 161.22 L500.47 161.31 L500.61 161.39 L500.76 161.48 L500.91 161.58 L501.06 161.67 L501.21 161.76 L501.36 161.86 L501.51 161.95 L501.66 162.05 L501.81 162.14 L501.96 162.23 L502.11 162.33 L502.26 162.42 L502.41 162.51 L502.56 162.59 L502.71 162.68 L502.86 162.76 L503.01 162.84 L503.16 162.93 L503.31 163.01 L503.46 163.08 L503.61 163.16 L503.75 163.24 L503.9 163.32 L504.05 163.39 L504.2 163.46 L504.2 163.46 L480.43 159.53 Z" fill="#ff0000" stroke="#b80000" stroke-width="0.6" stroke-linejoin="round"/>
<path d="M459.89 166.49 L460.03 166.49 L460.17 166.49 L460.31 166.49 L460.45 166.48 L460.59 166.47 L460.73 166.45 L460.86 166.43 L461 166.41 L461.14 166.39 L461.28 166.36 L461.42 166.33 L461.56 166.3 L461.7 166.27 L461.84 166.23 L461.98 166.18 L462.12 166.13 L462.26 166.07 L462.4 166 L462.54 165.93 L462.68 165.86 L462.82 165.79 L462.95 165.71 L463.09 165.63 L463.23 165.56 L463.37 165.48 L463.51 165.41 L463.65 165.33 L463.79 165.26 L463.93 165.18 L464.07 165.1 L464.21 165.02 L464.35 164.93 L464.49 164.84 L464.63 164.75 L464.77 164.65 L464.9 164.55 L465.04 164.44 L465.18 164.32 L465.32 164.2 L465.46 164.07 L465.6 163.94 L465.74 163.79 L465.88 163.63 L466.02 163.46 L466.16 163.28 L466.3 163.08 L466.44 162.84 L466.58 162.58 L466.72 162.28 L466.85 161.97 L466.99 161.63 L467.13 161.27 L467.27 160.91 L467.41 160.53 L467.55 160.15 L467.69 159.76 L467.83 159.3 L467.97 158.81 L468.11 158.31 L468.25 157.88 L468.39 157.54 L468.53 157.28 L468.67 157.04 L468.81 156.83 L468.94 156.65 L469.08 156.48 L469.22 156.34 L469.36 156.21 L469.5 156.12 L469.64 156.04 L469.78 155.98 L469.92 155.93 L470.06 155.9 L470.2 155.89 L470.34 155.9 L470.48 155.93 L470.62 155.97 L470.76 156.02 L470.89 156.08 L471.03 156.16 L471.17 156.25 L471.31 156.36 L471.45 156.48 L471.59 156.6 L471.73 156.72 L471.87 156.86 L472.01 157 L472.15 157.16 L472.29 157.34 L472.43 157.55 L472.57 157.83 L472.71 158.25 L472.84 158.79 L472.98 159.39 L473.12 160 L473.26 160.6 L473.4 161.12 L473.54 161.54 L473.68 161.91 L473.82 162.27 L473.96 162.62 L474.1 162.95 L474.24 163.26 L474.38 163.56 L474.52 163.84 L474.66 164.11 L474.8 164.35 L474.93 164.58 L475.07 164.79 L475.21 164.98 L475.35 165.16 L475.49 165.34 L475.63 165.5 L475.77 165.66 L475.91 165.82 L476.05 165.96 L476.19 166.1 L476.33 166.24 L476.47 166.37 L476.61 166.49 L476.75 166.62 L476.88 166.73 L477.02 166.85 L477.16 166.96 L477.3 167.07 L477.44 167.17 L477.58 167.27 L477.72 167.36 L477.86 167.46 L478 167.55 L478.14 167.64 L478.28 167.73 L478.42 167.82 L478.56 167.91 L478.7 168 L478.83 168.09 L478.97 168.19 L479.11 168.28 L479.25 168.38 L479.39 168.48 L479.53 168.58 L479.67 168.68 L479.81 168.78 L479.95 168.88 L480.09 168.97 L480.23 169.07 L480.37 169.16 L480.51 169.25 L480.65 169.34 L480.79 169.43 L480.92 169.51 L481.06 169.6 L481.2 169.68 L481.34 169.76 L481.48 169.85 L481.62 169.92 L481.76 170 L481.9 170.08 L482.04 170.16 L482.04 170.16 L459.89 166.49 Z" fill="#ff0000" stroke="#b80000" stroke-width="0.6" stroke-linejoin="round"/>
<path d="M439.32 173.44 L439.45 173.45 L439.58 173.45 L439.72 173.44 L439.85 173.43 L439.98 173.41 L440.11 173.39 L440.25 173.37 L440.38 173.34 L440.51 173.31 L440.64 173.28 L440.78 173.24 L440.91 173.21 L441.04 173.17 L441.18 173.13 L441.31 173.07 L441.44 173.01 L441.57 172.94 L441.71 172.87 L441.84 172.79 L441.97 172.71 L442.1 172.62 L442.24 172.54 L442.37 172.45 L442.5 172.37 L442.63 172.28 L442.77 172.2 L442.9 172.12 L443.03 172.03 L443.17 171.95 L443.3 171.86 L443.43 171.77 L443.56 171.67 L443.7 171.57 L443.83 171.47 L443.96 171.36 L444.09 171.24 L444.23 171.12 L444.36 170.99 L444.49 170.86 L444.62 170.72 L444.76 170.57 L444.89 170.41 L445.02 170.23 L445.16 170.05 L445.29 169.84 L445.42 169.62 L445.55 169.37 L445.69 169.08 L445.82 168.76 L445.95 168.41 L446.08 168.04 L446.22 167.66 L446.35 167.26 L446.48 166.85 L446.61 166.43 L446.75 166.01 L446.88 165.51 L447.01 164.97 L447.15 164.44 L447.28 163.96 L447.41 163.6 L447.54 163.31 L447.68 163.06 L447.81 162.83 L447.94 162.62 L448.07 162.44 L448.21 162.28 L448.34 162.14 L448.47 162.03 L448.6 161.95 L448.74 161.88 L448.87 161.83 L449 161.79 L449.14 161.78 L449.27 161.79 L449.4 161.81 L449.53 161.85 L449.67 161.9 L449.8 161.97 L449.93 162.05 L450.06 162.15 L450.2 162.26 L450.33 162.38 L450.46 162.51 L450.59 162.65 L450.73 162.78 L450.86 162.94 L450.99 163.11 L451.13 163.3 L451.26 163.52 L451.39 163.82 L451.52 164.28 L451.66 164.85 L451.79 165.49 L451.92 166.16 L452.05 166.8 L452.19 167.36 L452.32 167.81 L452.45 168.21 L452.58 168.59 L452.72 168.96 L452.85 169.32 L452.98 169.65 L453.12 169.97 L453.25 170.28 L453.38 170.56 L453.51 170.82 L453.65 171.06 L453.78 171.29 L453.91 171.49 L454.04 171.69 L454.18 171.87 L454.31 172.05 L454.44 172.22 L454.57 172.38 L454.71 172.53 L454.84 172.68 L454.97 172.83 L455.11 172.96 L455.24 173.1 L455.37 173.23 L455.5 173.35 L455.64 173.47 L455.77 173.59 L455.9 173.7 L456.03 173.81 L456.17 173.91 L456.3 174.01 L456.43 174.11 L456.57 174.21 L456.7 174.3 L456.83 174.39 L456.96 174.49 L457.1 174.58 L457.23 174.68 L457.36 174.77 L457.49 174.88 L457.63 174.98 L457.76 175.08 L457.89 175.19 L458.02 175.29 L458.16 175.39 L458.29 175.5 L458.42 175.6 L458.56 175.7 L458.69 175.8 L458.82 175.9 L458.95 175.99 L459.09 176.09 L459.22 176.18 L459.35 176.27 L459.48 176.36 L459.62 176.44 L459.75 176.53 L459.88 176.61 L460.01 176.7 L460.15 176.78 L460.28 176.86 L460.41 176.94 L460.41 176.94 L439.32 173.44 Z" fill="#ff0000" stroke="#b80000" stroke-width="0.6" stroke-linejoin="round"/>
<path d="M372.96 172.82 L373.04 172.79 L373.11 172.76 L373.19 172.73 L373.26 172.71 L373.34 172.68 L373.41 172.66 L373.49 172.64 L373.56 172.61 L373.64 172.59 L373.71 172.57 L373.78 172.55 L373.86 172.53 L373.93 172.51 L374.01 172.5 L374.08 172.48 L374.16 172.46 L374.23 172.44 L374.31 172.41 L374.38 172.39 L374.46 172.37 L374.53 172.35 L374.61 172.32 L374.68 172.29 L374.75 172.26 L374.83 172.23 L374.9 172.2 L374.98 172.17 L375.05 172.13 L375.13 172.1 L375.2 172.07 L375.28 172.03 L375.35 172 L375.43 171.95 L375.5 171.91 L375.57 171.85 L375.65 171.79 L375.72 171.71 L375.8 171.63 L375.87 171.53 L375.95 171.39 L376.02 171.13 L376.1 170.75 L376.17 170.28 L376.25 169.74 L376.32 169.15 L376.39 168.52 L376.47 167.88 L376.54 167.26 L376.62 166.66 L376.69 166.07 L376.77 165.44 L376.84 164.78 L376.92 164.11 L376.99 163.41 L377.07 162.7 L377.14 161.98 L377.21 161.26 L377.29 160.53 L377.36 159.8 L377.44 159.07 L377.51 158.28 L377.59 157.43 L377.66 156.56 L377.74 155.68 L377.81 154.83 L377.89 154.04 L377.96 153.33 L378.04 152.72 L378.11 152.25 L378.18 151.91 L378.26 151.65 L378.33 151.41 L378.41 151.17 L378.48 150.95 L378.56 150.74 L378.63 150.56 L378.71 150.39 L378.78 150.24 L378.86 150.11 L378.93 150 L379 149.91 L379.08 149.86 L379.15 149.82 L379.23 149.79 L379.3 149.79 L379.38 149.82 L379.45 149.87 L379.53 149.94 L379.6 150.04 L379.68 150.17 L379.75 150.32 L379.82 150.5 L379.9 150.71 L379.97 150.94 L380.05 151.19 L380.12 151.46 L380.2 151.75 L380.27 152.07 L380.35 152.42 L380.42 152.8 L380.5 153.2 L380.57 153.62 L380.64 154.05 L380.72 154.5 L380.79 154.96 L380.87 155.44 L380.94 155.91 L381.02 156.4 L381.09 156.88 L381.17 157.37 L381.24 157.85 L381.32 158.33 L381.39 158.79 L381.47 159.25 L381.54 159.7 L381.61 160.16 L381.69 160.61 L381.76 161.08 L381.84 161.54 L381.91 162 L381.99 162.47 L382.06 162.93 L382.14 163.39 L382.21 163.84 L382.29 164.29 L382.36 164.73 L382.43 165.16 L382.51 165.58 L382.58 165.99 L382.66 166.39 L382.73 166.77 L382.81 167.15 L382.88 167.51 L382.96 167.87 L383.03 168.22 L383.11 168.57 L383.18 168.9 L383.25 169.24 L383.33 169.56 L383.4 169.89 L383.48 170.21 L383.55 170.52 L383.63 170.84 L383.7 171.15 L383.78 171.46 L383.85 171.76 L383.93 172.07 L384 172.4 L384.07 172.75 L384.15 173.1 L384.22 173.45 L384.3 173.78 L384.37 174.07 L384.45 174.32 L384.52 174.5 L384.6 174.61 L384.67 174.69 L384.75 174.75 L384.82 174.78 L384.82 174.78 L372.96 172.82 Z" fill="#ff0000" stroke="#b80000" stroke-width="0.6" stroke-linejoin="round"/>
<path d="M328.1 175.9 L328.6 71.9 L330.3 71.9 L331.2 175.9 Z" fill="#ff0000" stroke="#b80000" stroke-width="0.4"/>
<path d="M115.5 342 L116.53 342.17 L117.56 342.35 L118.58 342.52 L119.61 342.7 L120.64 342.87 L121.67 343.05 L122.7 343.22 L123.73 343.39 L124.75 343.57 L125.78 343.74 L126.81 343.92 L127.84 344.09 L128.87 344.26 L129.9 344.44 L130.92 344.61 L131.95 344.79 L132.98 344.96 L134.01 345.14 L135.04 345.31 L136.07 345.48 L137.09 345.66 L138.12 345.83 L139.15 346.01 L140.18 346.18 L141.21 346.36 L142.24 346.53 L143.26 346.7 L144.29 346.84 L145.32 346.89 L146.35 346.89 L147.38 346.85 L148.41 346.78 L149.43 346.71 L150.46 346.62 L151.49 346.46 L152.52 346.24 L153.55 345.98 L154.58 345.71 L155.6 345.44 L156.63 345.19 L157.66 344.99 L158.69 344.83 L159.72 344.68 L160.75 344.54 L161.77 344.41 L162.8 344.29 L163.83 344.18 L164.86 344.07 L165.89 343.98 L166.92 343.9 L167.94 343.82 L168.97 343.76 L170 343.71 L171.03 343.68 L172.06 343.66 L173.08 343.66 L174.11 343.67 L175.14 343.68 L176.17 343.7 L177.2 343.72 L178.23 343.74 L179.25 343.75 L180.28 343.75 L181.31 343.73 L182.34 343.7 L183.37 343.65 L184.4 343.59 L185.42 343.51 L186.45 343.42 L187.48 343.32 L188.51 343.21 L189.54 343.09 L190.57 342.95 L191.59 342.81 L192.62 342.65 L193.65 342.49 L194.68 342.32 L195.71 342.14 L196.74 341.93 L197.76 341.71 L198.79 341.46 L199.82 341.2 L200.85 340.92 L201.88 340.63 L202.91 340.32 L203.93 339.95 L204.96 339.61 L205.99 339.35 L207.02 339.16 L208.05 339.05 L209.08 339.02 L210.1 339.08 L211.13 339.22 L212.16 339.4 L213.19 339.59 L214.22 339.79 L215.25 340.01 L216.27 340.23 L217.3 340.46 L218.33 340.7 L219.36 340.98 L220.39 341.33 L221.42 341.78 L222.44 342.3 L223.47 342.88 L224.5 343.5 L225.53 344.15 L226.56 344.82 L227.58 345.5 L228.61 346.27 L229.64 347.14 L230.67 348.08 L231.7 349.06 L232.73 350.05 L233.75 351.02 L234.78 351.94 L235.81 352.79 L236.84 353.62 L237.87 354.45 L238.9 355.27 L239.92 356.06 L240.95 356.82 L241.98 357.54 L243.01 358.21 L244.04 358.83 L245.07 359.4 L246.09 359.96 L247.12 360.48 L248.15 360.99 L249.18 361.48 L250.21 361.94 L251.24 362.4 L252.26 362.84 L253.29 363.28 L254.32 363.72 L255.35 364.14 L256.38 364.55 L257.41 364.93 L258.43 365.29 L259.46 365.61 L260.49 365.9 L261.52 366.18 L262.55 366.45 L263.58 366.72 L264.6 366.97 L265.63 367.21 L266.66 367.44 L267.69 367.65 L268.72 367.84 L269.75 368.04 L270.77 368.23 L271.8 368.42 L272.83 368.61 L273.86 368.8 L274.89 368.98 L275.92 369.17 L276.94 369.35 L277.97 369.52 L279 369.7 L279 369.7 L115.5 342 Z" fill="#ff0000" stroke="#b80000" stroke-width="0.6" stroke-linejoin="round"/>
<path d="M121.79 366.92 L122.47 367.03 L123.14 367.13 L123.82 367.23 L124.5 367.31 L125.17 367.38 L125.85 367.45 L126.53 367.51 L127.2 367.56 L127.88 367.6 L128.56 367.64 L129.23 367.68 L129.91 367.71 L130.58 367.73 L131.26 367.75 L131.94 367.77 L132.61 367.78 L133.29 367.79 L133.97 367.8 L134.64 367.81 L135.32 367.8 L136 367.77 L136.67 367.71 L137.35 367.64 L138.02 367.54 L138.7 367.43 L139.38 367.29 L140.05 367.15 L140.73 366.98 L141.41 366.8 L142.08 366.61 L142.76 366.41 L143.44 366.2 L144.11 365.98 L144.79 365.76 L145.47 365.52 L146.14 365.29 L146.82 365.05 L147.49 364.8 L148.17 364.54 L148.85 364.26 L149.52 363.95 L150.2 363.62 L150.88 363.27 L151.55 362.91 L152.23 362.52 L152.91 362.12 L153.58 361.7 L154.26 361.27 L154.94 360.82 L155.61 360.37 L156.29 359.9 L156.96 359.42 L157.64 358.94 L158.32 358.44 L158.99 357.95 L159.67 357.44 L160.35 356.94 L161.02 356.43 L161.7 355.92 L162.38 355.42 L163.05 354.86 L163.73 354.26 L164.4 353.61 L165.08 352.94 L165.76 352.26 L166.43 351.58 L167.11 350.92 L167.79 350.28 L168.46 349.69 L169.14 349.15 L169.82 348.69 L170.49 348.31 L171.17 347.98 L171.85 347.67 L172.52 347.4 L173.2 347.14 L173.87 346.92 L174.55 346.72 L175.23 346.55 L175.9 346.41 L176.58 346.32 L177.26 346.25 L177.93 346.22 L178.61 346.22 L179.29 346.25 L179.96 346.33 L180.64 346.43 L181.32 346.56 L181.99 346.7 L182.67 346.87 L183.34 347.07 L184.02 347.28 L184.7 347.51 L185.37 347.76 L186.05 348.04 L186.73 348.34 L187.4 348.67 L188.08 349.05 L188.76 349.5 L189.43 350.17 L190.11 351.06 L190.78 352.13 L191.46 353.32 L192.14 354.58 L192.81 355.84 L193.49 357.07 L194.17 358.24 L194.84 359.48 L195.52 360.78 L196.2 362.09 L196.87 363.39 L197.55 364.63 L198.23 365.78 L198.9 366.8 L199.58 367.75 L200.25 368.67 L200.93 369.56 L201.61 370.41 L202.28 371.21 L202.96 371.97 L203.64 372.67 L204.31 373.31 L204.99 373.88 L205.67 374.41 L206.34 374.9 L207.02 375.38 L207.7 375.82 L208.37 376.25 L209.05 376.66 L209.72 377.06 L210.4 377.45 L211.08 377.83 L211.75 378.2 L212.43 378.57 L213.11 378.95 L213.78 379.32 L214.46 379.71 L215.14 380.09 L215.81 380.47 L216.49 380.85 L217.16 381.21 L217.84 381.57 L218.52 381.9 L219.19 382.22 L219.87 382.51 L220.55 382.77 L221.22 383 L221.9 383.21 L222.58 383.42 L223.25 383.63 L223.93 383.83 L224.61 384.03 L225.28 384.22 L225.96 384.4 L226.63 384.58 L227.31 384.74 L227.99 384.89 L228.66 385.02 L229.34 385.15 L229.34 385.15 L121.79 366.92 Z" fill="#ff0000" stroke="#b80000" stroke-width="0.6" stroke-linejoin="round"/>
<path d="M128.47 391.91 L128.8 391.89 L129.13 391.84 L129.46 391.78 L129.79 391.71 L130.12 391.61 L130.45 391.51 L130.78 391.39 L131.11 391.27 L131.44 391.13 L131.77 390.98 L132.1 390.83 L132.43 390.67 L132.76 390.49 L133.09 390.3 L133.42 390.09 L133.75 389.86 L134.08 389.62 L134.41 389.35 L134.74 389.07 L135.07 388.77 L135.4 388.44 L135.73 388.11 L136.06 387.75 L136.39 387.37 L136.72 386.98 L137.05 386.56 L137.38 386.13 L137.71 385.67 L138.04 385.17 L138.37 384.59 L138.7 383.95 L139.03 383.24 L139.36 382.49 L139.69 381.69 L140.02 380.85 L140.35 379.97 L140.68 379.07 L141.01 378.15 L141.34 377.22 L141.67 376.28 L142 375.34 L142.33 374.37 L142.66 373.36 L142.99 372.32 L143.32 371.24 L143.65 370.12 L143.98 368.96 L144.31 367.76 L144.64 366.51 L144.97 365.23 L145.3 363.91 L145.63 362.47 L145.96 360.87 L146.29 359.13 L146.62 357.32 L146.95 355.48 L147.29 353.64 L147.62 351.86 L147.95 350.19 L148.28 348.66 L148.61 347.32 L148.94 346.17 L149.27 345.08 L149.6 344.03 L149.93 343.05 L150.26 342.14 L150.59 341.29 L150.92 340.53 L151.25 339.85 L151.58 339.26 L151.91 338.81 L152.24 338.44 L152.57 338.15 L152.9 337.94 L153.23 337.82 L153.56 337.8 L153.89 337.85 L154.22 337.97 L154.55 338.18 L154.88 338.46 L155.21 338.81 L155.54 339.24 L155.87 339.72 L156.2 340.32 L156.53 340.99 L156.86 341.72 L157.19 342.51 L157.52 343.36 L157.85 344.27 L158.18 345.25 L158.51 346.28 L158.84 347.38 L159.17 348.66 L159.5 350.13 L159.83 351.74 L160.16 353.46 L160.49 355.25 L160.82 357.07 L161.15 358.87 L161.48 360.63 L161.81 362.29 L162.14 363.82 L162.47 365.27 L162.8 366.71 L163.13 368.14 L163.46 369.54 L163.79 370.91 L164.12 372.24 L164.45 373.52 L164.78 374.75 L165.11 375.92 L165.44 377.02 L165.77 378.07 L166.1 379.08 L166.43 380.07 L166.76 381.03 L167.09 381.96 L167.42 382.86 L167.75 383.74 L168.08 384.59 L168.41 385.41 L168.74 386.2 L169.08 386.97 L169.41 387.7 L169.74 388.41 L170.07 389.08 L170.4 389.74 L170.73 390.39 L171.06 391.03 L171.39 391.66 L171.72 392.26 L172.05 392.85 L172.38 393.42 L172.71 393.97 L173.04 394.49 L173.37 394.98 L173.7 395.45 L174.03 395.88 L174.36 396.28 L174.69 396.65 L175.02 397 L175.35 397.33 L175.68 397.66 L176.01 397.96 L176.34 398.25 L176.67 398.52 L177 398.78 L177.33 399.01 L177.66 399.23 L177.99 399.43 L178.32 399.62 L178.65 399.8 L178.98 399.98 L179.31 400.15 L179.64 400.31 L179.97 400.45 L180.3 400.59 L180.63 400.71 L180.96 400.81 L180.96 400.81 L128.47 391.91 Z" fill="#ff0000" stroke="#b80000" stroke-width="0.6" stroke-linejoin="round"/>
<path d="M110.82 412.78 L111.02 412.81 L111.22 412.83 L111.42 412.84 L111.62 412.84 L111.82 412.84 L112.02 412.82 L112.22 412.8 L112.43 412.78 L112.63 412.75 L112.83 412.71 L113.03 412.67 L113.23 412.63 L113.43 412.58 L113.63 412.51 L113.83 412.42 L114.04 412.3 L114.24 412.16 L114.44 411.99 L114.64 411.79 L114.84 411.57 L115.04 411.32 L115.24 411.04 L115.45 410.74 L115.65 410.41 L115.85 410.06 L116.05 409.67 L116.25 409.26 L116.45 408.83 L116.65 408.36 L116.85 407.87 L117.06 407.35 L117.26 406.8 L117.46 406.22 L117.66 405.6 L117.86 404.72 L118.06 403.53 L118.26 402.05 L118.47 400.32 L118.67 398.38 L118.87 396.26 L119.07 394 L119.27 391.62 L119.47 389.16 L119.67 386.66 L119.87 384.15 L120.08 381.66 L120.28 379.19 L120.48 376.58 L120.68 373.83 L120.88 370.92 L121.08 367.87 L121.28 364.68 L121.48 361.35 L121.69 357.89 L121.89 354.26 L122.09 349.83 L122.29 344.73 L122.49 339.32 L122.69 334 L122.89 329.15 L123.1 325.14 L123.3 322.37 L123.5 320.85 L123.7 319.6 L123.9 318.52 L124.1 317.6 L124.3 316.82 L124.5 316.15 L124.71 315.58 L124.91 315.09 L125.11 314.71 L125.31 314.41 L125.51 314.13 L125.71 313.9 L125.91 313.71 L126.11 313.57 L126.32 313.46 L126.52 313.42 L126.72 313.4 L126.92 313.44 L127.12 313.52 L127.32 313.63 L127.52 313.81 L127.73 314.02 L127.93 314.28 L128.13 314.58 L128.33 314.92 L128.53 315.3 L128.73 315.74 L128.93 316.25 L129.13 316.8 L129.34 317.41 L129.54 318.11 L129.74 318.92 L129.94 319.86 L130.14 320.97 L130.34 322.35 L130.54 325.03 L130.75 329 L130.95 333.86 L131.15 339.21 L131.35 344.66 L131.55 349.81 L131.75 354.25 L131.95 357.9 L132.15 361.45 L132.36 364.89 L132.56 368.2 L132.76 371.34 L132.96 374.27 L133.16 376.96 L133.36 379.37 L133.56 381.48 L133.76 383.48 L133.97 385.43 L134.17 387.31 L134.37 389.13 L134.57 390.88 L134.77 392.57 L134.97 394.18 L135.17 395.72 L135.38 397.19 L135.58 398.58 L135.78 399.89 L135.98 401.12 L136.18 402.27 L136.38 403.33 L136.58 404.31 L136.78 405.2 L136.99 406 L137.19 406.77 L137.39 407.51 L137.59 408.23 L137.79 408.92 L137.99 409.6 L138.19 410.25 L138.39 410.88 L138.6 411.48 L138.8 412.06 L139 412.62 L139.2 413.15 L139.4 413.65 L139.6 414.12 L139.8 414.57 L140.01 414.99 L140.21 415.38 L140.41 415.74 L140.61 416.07 L140.81 416.37 L141.01 416.64 L141.21 416.87 L141.41 417.1 L141.62 417.31 L141.82 417.51 L142.02 417.7 L142.22 417.86 L142.42 418.01 L142.62 418.12 L142.82 418.21 L142.82 418.21 L110.82 412.78 Z" fill="#ff0000" stroke="#b80000" stroke-width="0.6" stroke-linejoin="round"/>
<path d="M472.54 356.37 L473.17 356.47 L473.8 356.57 L474.42 356.66 L475.05 356.76 L475.67 356.85 L476.3 356.94 L476.92 357.02 L477.55 357.11 L478.17 357.19 L478.8 357.27 L479.43 357.34 L480.05 357.4 L480.68 357.47 L481.3 357.52 L481.93 357.57 L482.55 357.61 L483.18 357.65 L483.8 357.67 L484.43 357.68 L485.05 357.69 L485.68 357.67 L486.31 357.65 L486.93 357.61 L487.56 357.55 L488.18 357.48 L488.81 357.38 L489.43 357.27 L490.06 357.13 L490.68 356.97 L491.31 356.78 L491.94 356.56 L492.56 356.31 L493.19 356.04 L493.81 355.72 L494.44 355.37 L495.06 354.99 L495.69 354.56 L496.31 354.09 L496.94 353.58 L497.56 353.03 L498.19 352.42 L498.82 351.77 L499.44 351.08 L500.07 350.33 L500.69 349.53 L501.32 348.69 L501.94 347.79 L502.57 346.84 L503.19 345.84 L503.82 344.79 L504.45 343.69 L505.07 342.54 L505.7 341.35 L506.32 340.12 L506.95 338.85 L507.57 337.54 L508.2 336.2 L508.82 334.83 L509.45 333.43 L510.07 332.01 L510.7 330.58 L511.33 329.14 L511.95 327.7 L512.58 326.26 L513.2 324.83 L513.83 323.41 L514.45 322.02 L515.08 320.66 L515.7 319.33 L516.33 318.05 L516.96 316.82 L517.58 315.64 L518.21 314.53 L518.83 313.49 L519.46 312.53 L520.08 311.65 L520.71 310.86 L521.33 310.16 L521.96 309.56 L522.59 309.07 L523.21 308.68 L523.84 308.39 L524.46 308.22 L525.09 308.16 L525.71 308.22 L526.34 308.38 L526.96 308.66 L527.59 309.03 L528.21 309.51 L528.84 310.1 L529.47 310.78 L530.09 311.56 L530.72 312.43 L531.34 313.38 L531.97 314.43 L532.59 315.55 L533.22 316.74 L533.84 318 L534.47 319.33 L535.1 320.71 L535.72 322.14 L536.35 323.61 L536.97 325.12 L537.6 326.66 L538.22 328.23 L538.85 329.81 L539.47 331.41 L540.1 333.01 L540.72 334.61 L541.35 336.21 L541.98 337.8 L542.6 339.38 L543.23 340.93 L543.85 342.46 L544.48 343.96 L545.1 345.43 L545.73 346.87 L546.35 348.27 L546.98 349.63 L547.61 350.95 L548.23 352.22 L548.86 353.45 L549.48 354.63 L550.11 355.77 L550.73 356.85 L551.36 357.89 L551.98 358.89 L552.61 359.83 L553.23 360.73 L553.86 361.59 L554.49 362.4 L555.11 363.16 L555.74 363.88 L556.36 364.57 L556.99 365.21 L557.61 365.81 L558.24 366.38 L558.86 366.91 L559.49 367.42 L560.12 367.88 L560.74 368.33 L561.37 368.74 L561.99 369.12 L562.62 369.49 L563.24 369.83 L563.87 370.14 L564.49 370.44 L565.12 370.72 L565.74 370.99 L566.37 371.23 L567 371.47 L567.62 371.69 L568.25 371.9 L568.87 372.1 L569.5 372.28 L570.12 372.46 L570.75 372.63 L571.37 372.8 L572 372.95 L572 373.3 L472.54 356.41 Z" fill="#ff0000" stroke="#b80000" stroke-width="0.6" stroke-linejoin="round"/>
<path d="M438.67 364.76 L439.28 364.86 L439.88 364.95 L440.49 365.05 L441.1 365.14 L441.7 365.23 L442.31 365.31 L442.91 365.4 L443.52 365.48 L444.12 365.55 L444.73 365.63 L445.33 365.7 L445.94 365.76 L446.54 365.82 L447.15 365.87 L447.75 365.92 L448.36 365.95 L448.96 365.98 L449.57 366 L450.17 366.01 L450.78 366.01 L451.39 365.99 L451.99 365.96 L452.6 365.91 L453.2 365.85 L453.81 365.76 L454.41 365.66 L455.02 365.53 L455.62 365.38 L456.23 365.2 L456.83 365 L457.44 364.76 L458.04 364.49 L458.65 364.19 L459.25 363.85 L459.86 363.48 L460.46 363.06 L461.07 362.6 L461.68 362.1 L462.28 361.55 L462.89 360.95 L463.49 360.31 L464.1 359.61 L464.7 358.86 L465.31 358.06 L465.91 357.21 L466.52 356.3 L467.12 355.33 L467.73 354.32 L468.33 353.25 L468.94 352.13 L469.54 350.95 L470.15 349.73 L470.76 348.46 L471.36 347.15 L471.97 345.8 L472.57 344.41 L473.18 342.99 L473.78 341.54 L474.39 340.07 L474.99 338.58 L475.6 337.08 L476.2 335.57 L476.81 334.06 L477.41 332.56 L478.02 331.08 L478.62 329.62 L479.23 328.19 L479.83 326.79 L480.44 325.44 L481.05 324.15 L481.65 322.91 L482.26 321.74 L482.86 320.65 L483.47 319.63 L484.07 318.71 L484.68 317.88 L485.28 317.15 L485.89 316.52 L486.49 316 L487.1 315.59 L487.7 315.3 L488.31 315.13 L488.91 315.08 L489.52 315.14 L490.12 315.32 L490.73 315.59 L491.34 315.95 L491.94 316.42 L492.55 316.98 L493.15 317.63 L493.76 318.36 L494.36 319.19 L494.97 320.09 L495.57 321.08 L496.18 322.14 L496.78 323.27 L497.39 324.46 L497.99 325.72 L498.6 327.02 L499.2 328.38 L499.81 329.78 L500.41 331.22 L501.02 332.7 L501.63 334.2 L502.23 335.72 L502.84 337.26 L503.44 338.8 L504.05 340.36 L504.65 341.91 L505.26 343.47 L505.86 345.01 L506.47 346.54 L507.07 348.05 L507.68 349.54 L508.28 351 L508.89 352.44 L509.49 353.85 L510.1 355.22 L510.71 356.56 L511.31 357.86 L511.92 359.12 L512.52 360.34 L513.13 361.52 L513.73 362.66 L514.34 363.75 L514.94 364.8 L515.55 365.8 L516.15 366.76 L516.76 367.68 L517.36 368.55 L517.97 369.38 L518.57 370.17 L519.18 370.92 L519.78 371.63 L520.39 372.31 L521 372.94 L521.6 373.54 L522.21 374.11 L522.81 374.64 L523.42 375.14 L524.02 375.61 L524.63 376.06 L525.23 376.48 L525.84 376.87 L526.44 377.24 L527.05 377.59 L527.65 377.91 L528.26 378.22 L528.86 378.51 L529.47 378.78 L530.07 379.03 L530.68 379.28 L531.29 379.5 L531.89 379.72 L532.5 379.93 L533.1 380.12 L533.71 380.31 L534.31 380.48 L534.92 380.65 L534.92 381.14 L438.67 364.8 Z" fill="#ff0000" stroke="#b80000" stroke-width="0.6" stroke-linejoin="round"/>
<path d="M406.4 373.43 L406.97 373.52 L407.55 373.61 L408.13 373.69 L408.7 373.78 L409.28 373.87 L409.86 373.95 L410.43 374.03 L411.01 374.1 L411.59 374.18 L412.16 374.25 L412.74 374.31 L413.32 374.37 L413.89 374.42 L414.47 374.47 L415.05 374.51 L415.62 374.55 L416.2 374.57 L416.78 374.58 L417.35 374.59 L417.93 374.58 L418.51 374.56 L419.08 374.52 L419.66 374.47 L420.24 374.39 L420.81 374.3 L421.39 374.19 L421.97 374.05 L422.54 373.89 L423.12 373.71 L423.7 373.49 L424.27 373.24 L424.85 372.96 L425.43 372.64 L426 372.29 L426.58 371.89 L427.15 371.45 L427.73 370.97 L428.31 370.44 L428.88 369.87 L429.46 369.24 L430.04 368.56 L430.61 367.83 L431.19 367.04 L431.77 366.19 L432.34 365.29 L432.92 364.33 L433.5 363.32 L434.07 362.24 L434.65 361.11 L435.23 359.92 L435.8 358.68 L436.38 357.39 L436.96 356.04 L437.53 354.65 L438.11 353.22 L438.69 351.74 L439.26 350.23 L439.84 348.69 L440.42 347.12 L440.99 345.53 L441.57 343.93 L442.15 342.32 L442.72 340.71 L443.3 339.11 L443.88 337.52 L444.45 335.96 L445.03 334.43 L445.61 332.93 L446.18 331.49 L446.76 330.1 L447.34 328.77 L447.91 327.51 L448.49 326.34 L449.07 325.25 L449.64 324.25 L450.22 323.35 L450.8 322.56 L451.37 321.88 L451.95 321.32 L452.53 320.87 L453.1 320.55 L453.68 320.36 L454.25 320.29 L454.83 320.35 L455.41 320.53 L455.98 320.81 L456.56 321.18 L457.14 321.67 L457.71 322.25 L458.29 322.92 L458.87 323.69 L459.44 324.55 L460.02 325.5 L460.6 326.53 L461.17 327.64 L461.75 328.82 L462.33 330.07 L462.9 331.39 L463.48 332.76 L464.06 334.18 L464.63 335.65 L465.21 337.16 L465.79 338.7 L466.36 340.28 L466.94 341.87 L467.52 343.48 L468.09 345.11 L468.67 346.73 L469.25 348.36 L469.82 349.99 L470.4 351.6 L470.98 353.2 L471.55 354.78 L472.13 356.34 L472.71 357.87 L473.28 359.38 L473.86 360.85 L474.44 362.28 L475.01 363.68 L475.59 365.04 L476.17 366.35 L476.74 367.62 L477.32 368.85 L477.9 370.03 L478.47 371.17 L479.05 372.26 L479.63 373.3 L480.2 374.3 L480.78 375.25 L481.35 376.16 L481.93 377.02 L482.51 377.84 L483.08 378.61 L483.66 379.35 L484.24 380.04 L484.81 380.69 L485.39 381.31 L485.97 381.89 L486.54 382.44 L487.12 382.96 L487.7 383.44 L488.27 383.9 L488.85 384.32 L489.43 384.72 L490 385.1 L490.58 385.45 L491.16 385.78 L491.73 386.09 L492.31 386.38 L492.89 386.66 L493.46 386.91 L494.04 387.16 L494.62 387.38 L495.19 387.6 L495.77 387.8 L496.35 388 L496.92 388.18 L497.5 388.36 L498.08 388.52 L498.08 389.03 L406.4 373.46 Z" fill="#ff0000" stroke="#b80000" stroke-width="0.6" stroke-linejoin="round"/>
<path d="M377.94 382.71 L378.46 382.79 L378.99 382.87 L379.51 382.94 L380.04 383.01 L380.56 383.08 L381.09 383.15 L381.61 383.21 L382.14 383.27 L382.66 383.32 L383.19 383.37 L383.71 383.41 L384.24 383.45 L384.76 383.48 L385.29 383.5 L385.81 383.51 L386.34 383.51 L386.86 383.49 L387.39 383.47 L387.91 383.43 L388.44 383.38 L388.96 383.3 L389.49 383.21 L390.01 383.1 L390.54 382.97 L391.06 382.81 L391.59 382.63 L392.11 382.42 L392.64 382.17 L393.16 381.9 L393.69 381.59 L394.21 381.24 L394.74 380.85 L395.26 380.42 L395.79 379.95 L396.31 379.43 L396.84 378.86 L397.36 378.24 L397.88 377.57 L398.41 376.84 L398.93 376.06 L399.46 375.21 L399.98 374.31 L400.51 373.35 L401.03 372.32 L401.56 371.24 L402.08 370.09 L402.61 368.89 L403.13 367.62 L403.66 366.29 L404.18 364.9 L404.71 363.46 L405.23 361.97 L405.76 360.43 L406.28 358.84 L406.81 357.21 L407.33 355.55 L407.86 353.85 L408.38 352.13 L408.91 350.39 L409.43 348.63 L409.96 346.87 L410.48 345.12 L411.01 343.37 L411.53 341.64 L412.06 339.94 L412.58 338.27 L413.11 336.64 L413.63 335.07 L414.16 333.56 L414.68 332.11 L415.21 330.75 L415.73 329.47 L416.26 328.28 L416.78 327.19 L417.31 326.21 L417.83 325.35 L418.36 324.6 L418.88 323.98 L419.41 323.48 L419.93 323.12 L420.46 322.89 L420.98 322.8 L421.51 322.85 L422.03 323.01 L422.56 323.29 L423.08 323.68 L423.61 324.19 L424.13 324.8 L424.66 325.51 L425.18 326.33 L425.71 327.25 L426.23 328.26 L426.76 329.36 L427.28 330.55 L427.81 331.82 L428.33 333.16 L428.86 334.58 L429.38 336.05 L429.91 337.58 L430.43 339.17 L430.96 340.8 L431.48 342.46 L432.01 344.16 L432.53 345.89 L433.06 347.63 L433.58 349.38 L434.11 351.14 L434.63 352.91 L435.16 354.67 L435.68 356.42 L436.21 358.15 L436.73 359.87 L437.26 361.56 L437.78 363.22 L438.31 364.85 L438.83 366.45 L439.36 368 L439.88 369.52 L440.41 371 L440.93 372.42 L441.46 373.81 L441.98 375.14 L442.51 376.42 L443.03 377.66 L443.56 378.84 L444.08 379.97 L444.61 381.06 L445.13 382.09 L445.66 383.07 L446.18 384.01 L446.71 384.89 L447.23 385.74 L447.76 386.53 L448.28 387.28 L448.81 387.99 L449.33 388.66 L449.86 389.28 L450.38 389.87 L450.91 390.43 L451.43 390.95 L451.95 391.43 L452.48 391.89 L453 392.32 L453.53 392.72 L454.05 393.09 L454.58 393.44 L455.1 393.77 L455.63 394.07 L456.15 394.36 L456.68 394.63 L457.2 394.88 L457.73 395.12 L458.25 395.34 L458.78 395.55 L459.3 395.75 L459.83 395.93 L460.35 396.11 L460.88 396.27 L461.4 396.43 L461.4 396.94 L377.94 382.77 Z" fill="#ff0000" stroke="#b80000" stroke-width="0.6" stroke-linejoin="round"/>
<path d="M351.36 392.35 L351.83 392.42 L352.29 392.49 L352.76 392.56 L353.23 392.62 L353.69 392.68 L354.16 392.74 L354.62 392.8 L355.09 392.85 L355.56 392.89 L356.02 392.93 L356.49 392.97 L356.96 393 L357.42 393.02 L357.89 393.03 L358.35 393.03 L358.82 393.02 L359.29 393 L359.75 392.97 L360.22 392.92 L360.69 392.85 L361.15 392.77 L361.62 392.66 L362.09 392.53 L362.55 392.38 L363.02 392.19 L363.48 391.98 L363.95 391.74 L364.42 391.46 L364.88 391.14 L365.35 390.79 L365.82 390.39 L366.28 389.94 L366.75 389.44 L367.21 388.89 L367.68 388.28 L368.15 387.62 L368.61 386.89 L369.08 386.1 L369.55 385.24 L370.01 384.31 L370.48 383.31 L370.95 382.24 L371.41 381.09 L371.88 379.87 L372.34 378.57 L372.81 377.19 L373.28 375.73 L373.74 374.2 L374.21 372.59 L374.68 370.92 L375.14 369.17 L375.61 367.35 L376.07 365.48 L376.54 363.54 L377.01 361.55 L377.47 359.52 L377.94 357.45 L378.41 355.34 L378.87 353.22 L379.34 351.07 L379.81 348.93 L380.27 346.78 L380.74 344.66 L381.2 342.55 L381.67 340.49 L382.14 338.47 L382.6 336.51 L383.07 334.62 L383.54 332.81 L384 331.09 L384.47 329.48 L384.93 327.98 L385.4 326.6 L385.87 325.35 L386.33 324.25 L386.8 323.29 L387.27 322.48 L387.73 321.83 L388.2 321.35 L388.67 321.04 L389.13 320.9 L389.6 320.93 L390.06 321.11 L390.53 321.42 L391 321.87 L391.46 322.46 L391.93 323.17 L392.4 324.01 L392.86 324.98 L393.33 326.07 L393.8 327.27 L394.26 328.57 L394.73 329.98 L395.19 331.49 L395.66 333.08 L396.13 334.76 L396.59 336.51 L397.06 338.32 L397.53 340.2 L397.99 342.12 L398.46 344.09 L398.92 346.09 L399.39 348.12 L399.86 350.17 L400.32 352.23 L400.79 354.29 L401.26 356.35 L401.72 358.4 L402.19 360.44 L402.66 362.45 L403.12 364.44 L403.59 366.39 L404.05 368.31 L404.52 370.19 L404.99 372.01 L405.45 373.8 L405.92 375.52 L406.39 377.2 L406.85 378.81 L407.32 380.37 L407.78 381.87 L408.25 383.31 L408.72 384.69 L409.18 386 L409.65 387.26 L410.12 388.45 L410.58 389.59 L411.05 390.66 L411.52 391.68 L411.98 392.64 L412.45 393.55 L412.91 394.4 L413.38 395.2 L413.85 395.95 L414.31 396.66 L414.78 397.32 L415.25 397.93 L415.71 398.51 L416.18 399.05 L416.64 399.55 L417.11 400.01 L417.58 400.45 L418.04 400.85 L418.51 401.23 L418.98 401.57 L419.44 401.9 L419.91 402.2 L420.38 402.48 L420.84 402.74 L421.31 402.98 L421.77 403.21 L422.24 403.42 L422.71 403.62 L423.17 403.8 L423.64 403.98 L424.11 404.14 L424.57 404.3 L425.04 404.44 L425.5 404.58 L425.5 404.99 L351.36 392.4 Z" fill="#ff0000" stroke="#b80000" stroke-width="0.6" stroke-linejoin="round"/>
<path d="M336.4 402.8 L336.73 402.69 L337.06 402.57 L337.39 402.43 L337.72 402.26 L338.05 402.07 L338.38 401.85 L338.71 401.6 L339.04 401.32 L339.37 401.01 L339.7 400.66 L340.03 400.27 L340.36 399.84 L340.69 399.36 L341.02 398.84 L341.35 398.26 L341.68 397.64 L342.01 396.95 L342.34 396.21 L342.67 395.41 L343 394.54 L343.33 393.6 L343.66 392.59 L344 391.51 L344.33 390.36 L344.66 389.13 L344.99 387.82 L345.32 386.43 L345.65 384.96 L345.98 383.41 L346.31 381.78 L346.64 380.06 L346.97 378.27 L347.3 376.39 L347.63 374.44 L347.96 372.41 L348.29 370.31 L348.62 368.14 L348.95 365.91 L349.28 363.61 L349.61 361.26 L349.94 358.86 L350.27 356.42 L350.6 353.94 L350.93 351.43 L351.26 348.9 L351.59 346.37 L351.92 343.82 L352.25 341.29 L352.58 338.78 L352.91 336.29 L353.24 333.84 L353.57 331.44 L353.9 329.1 L354.23 326.83 L354.56 324.64 L354.89 322.54 L355.22 320.54 L355.55 318.66 L355.88 316.9 L356.21 315.27 L356.54 313.77 L356.87 312.43 L357.2 311.24 L357.53 310.21 L357.86 309.36 L358.19 308.67 L358.52 308.16 L358.86 307.83 L359.19 307.68 L359.52 307.71 L359.85 307.89 L360.18 308.21 L360.51 308.68 L360.84 309.29 L361.17 310.04 L361.5 310.93 L361.83 311.94 L362.16 313.09 L362.49 314.36 L362.82 315.74 L363.15 317.24 L363.48 318.85 L363.81 320.55 L364.14 322.36 L364.47 324.25 L364.8 326.21 L365.13 328.26 L365.46 330.37 L365.79 332.53 L366.12 334.75 L366.45 337.01 L366.78 339.3 L367.11 341.63 L367.44 343.97 L367.77 346.33 L368.1 348.69 L368.43 351.06 L368.76 353.41 L369.09 355.76 L369.42 358.08 L369.75 360.38 L370.08 362.65 L370.41 364.89 L370.74 367.09 L371.07 369.24 L371.4 371.34 L371.73 373.4 L372.06 375.4 L372.39 377.35 L372.72 379.24 L373.05 381.06 L373.38 382.83 L373.71 384.53 L374.05 386.17 L374.38 387.74 L374.71 389.25 L375.04 390.7 L375.37 392.08 L375.7 393.4 L376.03 394.65 L376.36 395.85 L376.69 396.98 L377.02 398.05 L377.35 399.07 L377.68 400.03 L378.01 400.94 L378.34 401.79 L378.67 402.59 L379 403.35 L379.33 404.06 L379.66 404.72 L379.99 405.34 L380.32 405.92 L380.65 406.47 L380.98 406.97 L381.31 407.45 L381.64 407.89 L381.97 408.3 L382.3 408.68 L382.63 409.03 L382.96 409.36 L383.29 409.67 L383.62 409.95 L383.95 410.22 L384.28 410.46 L384.61 410.69 L384.94 410.91 L385.27 411.1 L385.6 411.29 L385.93 411.46 L386.26 411.62 L386.59 411.77 L386.92 411.91 L387.25 412.04 L387.58 412.17 L387.91 412.28 L388.24 412.39 L388.57 412.5 L388.91 412.6 L388.91 412.91 L336.4 404 Z" fill="#ff0000" stroke="#b80000" stroke-width="0.6" stroke-linejoin="round"/>
<path d="M108.8 574.1 L109.87 574.28 L110.93 574.46 L112 574.64 L113.06 574.82 L114.13 575.01 L115.19 575.19 L116.26 575.37 L117.32 575.55 L118.39 575.71 L119.45 575.6 L120.52 575.23 L121.58 574.78 L122.65 574.37 L123.72 573.95 L124.78 573.5 L125.85 573.01 L126.91 572.48 L127.98 571.92 L129.04 571.33 L130.11 570.71 L131.17 570.04 L132.24 569.27 L133.3 568.49 L134.37 567.73 L135.44 566.98 L136.5 566.23 L137.57 565.48 L138.63 564.71 L139.7 563.97 L140.76 563.36 L141.83 562.82 L142.89 562.37 L143.96 562.09 L145.02 561.96 L146.09 561.9 L147.15 561.88 L148.22 561.89 L149.29 561.92 L150.35 561.97 L151.42 562.02 L152.48 562.1 L153.55 562.18 L154.61 562.29 L155.68 562.41 L156.74 562.56 L157.81 562.71 L158.87 562.88 L159.94 563.09 L161.01 563.31 L162.07 563.56 L163.14 563.86 L164.2 564.17 L165.27 564.52 L166.33 564.89 L167.4 565.29 L168.46 565.72 L169.53 566.16 L170.59 566.63 L171.66 567.2 L172.72 567.91 L173.79 568.71 L174.86 569.6 L175.92 570.52 L176.99 571.47 L178.05 572.39 L179.12 573.28 L180.18 574.09 L181.25 574.81 L182.31 575.51 L183.38 576.2 L184.44 576.88 L185.51 577.54 L186.57 578.19 L187.64 578.82 L188.71 579.44 L189.77 580.05 L190.84 580.64 L191.9 581.22 L192.97 581.79 L194.03 582.34 L195.1 582.87 L196.16 583.4 L197.23 583.92 L198.29 584.45 L199.36 584.98 L200.43 585.5 L201.49 586.02 L202.56 586.54 L203.62 587.05 L204.69 587.54 L205.75 588.02 L206.82 588.48 L207.88 588.92 L208.95 589.33 L210.01 589.73 L211.08 590.09 L212.14 590.42 L213.21 590.72 L214.28 590.98 L215.34 591.24 L216.41 591.49 L217.47 591.73 L218.54 591.98 L219.6 592.22 L220.67 592.45 L221.73 592.68 L222.8 592.91 L223.86 593.14 L224.93 593.36 L225.99 593.58 L227.06 593.8 L228.13 594.01 L229.19 594.22 L230.26 594.42 L231.32 594.63 L232.39 594.82 L233.45 595.02 L234.52 595.21 L235.58 595.41 L236.65 595.6 L237.71 595.79 L238.78 595.99 L239.85 596.18 L240.91 596.37 L241.98 596.56 L243.04 596.75 L244.11 596.94 L245.17 597.13 L246.24 597.32 L247.3 597.51 L248.37 597.7 L249.43 597.89 L250.5 598.08 L251.56 598.27 L252.63 598.46 L253.7 598.65 L254.76 598.84 L255.83 599.03 L256.89 599.21 L257.96 599.4 L259.02 599.59 L260.09 599.77 L261.15 599.96 L262.22 600.15 L263.28 600.33 L264.35 600.52 L265.42 600.7 L266.48 600.89 L267.55 601.07 L268.61 601.26 L269.68 601.44 L270.74 601.62 L271.81 601.81 L272.87 601.99 L273.94 602.17 L275 602.36 L276.07 602.54 L277.13 602.72 L278.2 602.9 L278.2 602.9 L108.8 574.1 Z" fill="#ff0000" stroke="#b80000" stroke-width="0.6" stroke-linejoin="round"/>
<path d="M93.85 596.34 L94.54 596.45 L95.22 596.57 L95.91 596.68 L96.6 596.79 L97.28 596.9 L97.97 597.01 L98.66 597.11 L99.34 597.22 L100.03 597.32 L100.72 597.42 L101.4 597.52 L102.09 597.62 L102.78 597.72 L103.47 597.81 L104.15 597.91 L104.84 598 L105.53 598.09 L106.21 598.18 L106.9 598.25 L107.59 598.27 L108.27 598.22 L108.96 598.13 L109.65 597.99 L110.33 597.8 L111.02 597.58 L111.71 597.32 L112.39 597.03 L113.08 596.72 L113.77 596.4 L114.46 596.05 L115.14 595.69 L115.83 595.2 L116.52 594.58 L117.2 593.86 L117.89 593.06 L118.58 592.2 L119.26 591.3 L119.95 590.38 L120.64 589.48 L121.32 588.6 L122.01 587.68 L122.7 586.71 L123.38 585.71 L124.07 584.68 L124.76 583.65 L125.44 582.63 L126.13 581.62 L126.82 580.66 L127.51 579.72 L128.19 578.79 L128.88 577.87 L129.57 576.96 L130.25 576.08 L130.94 575.23 L131.63 574.41 L132.31 573.65 L133 572.97 L133.69 572.37 L134.37 571.88 L135.06 571.49 L135.75 571.22 L136.43 571.06 L137.12 571.04 L137.81 571.11 L138.49 571.29 L139.18 571.54 L139.87 571.89 L140.56 572.31 L141.24 572.81 L141.93 573.39 L142.62 574.03 L143.3 574.75 L143.99 575.53 L144.68 576.34 L145.36 577.19 L146.05 578.06 L146.74 578.94 L147.42 579.82 L148.11 580.69 L148.8 581.58 L149.48 582.49 L150.17 583.41 L150.86 584.32 L151.54 585.22 L152.23 586.09 L152.92 586.92 L153.61 587.71 L154.29 588.48 L154.98 589.23 L155.67 589.97 L156.35 590.71 L157.04 591.46 L157.73 592.22 L158.41 593.01 L159.1 593.83 L159.79 594.71 L160.47 595.61 L161.16 596.53 L161.85 597.43 L162.53 598.31 L163.22 599.14 L163.91 599.91 L164.6 600.68 L165.28 601.45 L165.97 602.18 L166.66 602.86 L167.34 603.48 L168.03 604 L168.72 604.44 L169.4 604.86 L170.09 605.27 L170.78 605.66 L171.46 606.03 L172.15 606.39 L172.84 606.73 L173.52 607.06 L174.21 607.37 L174.9 607.66 L175.58 607.93 L176.27 608.19 L176.96 608.43 L177.65 608.66 L178.33 608.87 L179.02 609.07 L179.71 609.27 L180.39 609.46 L181.08 609.65 L181.77 609.83 L182.45 610.01 L183.14 610.19 L183.83 610.36 L184.51 610.53 L185.2 610.69 L185.89 610.86 L186.57 611.02 L187.26 611.18 L187.95 611.35 L188.63 611.51 L189.32 611.67 L190.01 611.84 L190.7 612.01 L191.38 612.17 L192.07 612.34 L192.76 612.51 L193.44 612.67 L194.13 612.83 L194.82 613 L195.5 613.16 L196.19 613.32 L196.88 613.48 L197.56 613.65 L198.25 613.81 L198.94 613.96 L199.62 614.12 L200.31 614.28 L201 614.44 L201.68 614.59 L202.37 614.75 L203.06 614.9 L203.06 614.9 L93.85 596.34 Z" fill="#ff0000" stroke="#b80000" stroke-width="0.6" stroke-linejoin="round"/>
<path d="M94.82 621.28 L95.14 621.18 L95.45 621.05 L95.77 620.89 L96.09 620.7 L96.4 620.48 L96.72 620.24 L97.04 619.97 L97.35 619.69 L97.67 619.38 L97.99 619.06 L98.31 618.73 L98.62 618.38 L98.94 618.03 L99.26 617.65 L99.57 617.23 L99.89 616.76 L100.21 616.24 L100.52 615.7 L100.84 615.11 L101.16 614.5 L101.48 613.86 L101.79 613.19 L102.11 612.51 L102.43 611.8 L102.74 611.09 L103.06 610.37 L103.38 609.64 L103.69 608.9 L104.01 608.12 L104.33 607.3 L104.65 606.45 L104.96 605.57 L105.28 604.66 L105.6 603.74 L105.91 602.79 L106.23 601.83 L106.55 600.87 L106.86 599.89 L107.18 598.91 L107.5 597.94 L107.82 596.95 L108.13 595.95 L108.45 594.94 L108.77 593.9 L109.08 592.86 L109.4 591.8 L109.72 590.73 L110.03 589.65 L110.35 588.57 L110.67 587.48 L110.99 586.38 L111.3 585.29 L111.62 584.19 L111.94 583.1 L112.25 582.01 L112.57 580.93 L112.89 579.85 L113.2 578.77 L113.52 577.68 L113.84 576.59 L114.16 575.5 L114.47 574.42 L114.79 573.33 L115.11 572.25 L115.42 571.18 L115.74 570.1 L116.06 569.16 L116.38 568.36 L116.69 567.72 L117.01 567.26 L117.33 566.94 L117.64 566.82 L117.96 566.86 L118.28 567.11 L118.59 567.49 L118.91 568.13 L119.23 568.92 L119.55 569.93 L119.86 571.07 L120.18 572.4 L120.5 573.88 L120.81 575.48 L121.13 576.99 L121.45 578.53 L121.76 580.07 L122.08 581.61 L122.4 583.13 L122.72 584.61 L123.03 586.04 L123.35 587.39 L123.67 588.65 L123.98 589.81 L124.3 590.85 L124.62 591.81 L124.93 592.72 L125.25 593.58 L125.57 594.4 L125.89 595.18 L126.2 595.93 L126.52 596.66 L126.84 597.37 L127.15 598.06 L127.47 598.75 L127.79 599.43 L128.1 600.11 L128.42 600.77 L128.74 601.4 L129.06 602 L129.37 602.59 L129.69 603.17 L130.01 603.75 L130.32 604.33 L130.64 604.93 L130.96 605.54 L131.27 606.18 L131.59 606.86 L131.91 607.58 L132.23 608.34 L132.54 609.14 L132.86 609.97 L133.18 610.82 L133.49 611.68 L133.81 612.54 L134.13 613.39 L134.44 614.23 L134.76 615.04 L135.08 615.82 L135.4 616.57 L135.71 617.32 L136.03 618.06 L136.35 618.79 L136.66 619.51 L136.98 620.22 L137.3 620.91 L137.61 621.58 L137.93 622.22 L138.25 622.83 L138.57 623.41 L138.88 624 L139.2 624.59 L139.52 625.19 L139.83 625.78 L140.15 626.34 L140.47 626.86 L140.78 627.34 L141.1 627.77 L141.42 628.12 L141.74 628.38 L142.05 628.57 L142.37 628.75 L142.69 628.92 L143 629.08 L143.32 629.23 L143.64 629.37 L143.95 629.49 L144.27 629.61 L144.59 629.7 L144.91 629.78 L145.22 629.85 L145.22 629.85 L94.82 621.28 Z" fill="#ff0000" stroke="#b80000" stroke-width="0.6" stroke-linejoin="round"/>
<path d="M81.09 643.54 L81.28 643.54 L81.47 643.53 L81.66 643.52 L81.85 643.49 L82.04 643.46 L82.23 643.42 L82.42 643.36 L82.61 643.29 L82.8 643.21 L82.99 643.1 L83.18 642.98 L83.37 642.83 L83.56 642.66 L83.75 642.46 L83.94 642.23 L84.13 641.97 L84.32 641.66 L84.51 641.31 L84.7 640.92 L84.89 640.48 L85.08 639.98 L85.27 639.42 L85.46 638.8 L85.65 638.1 L85.84 637.33 L86.03 636.49 L86.22 635.55 L86.41 634.53 L86.6 633.41 L86.79 632.2 L86.98 630.88 L87.17 629.45 L87.36 627.91 L87.55 626.26 L87.74 624.49 L87.93 622.6 L88.12 620.59 L88.31 618.46 L88.5 616.21 L88.69 613.85 L88.88 611.37 L89.07 608.78 L89.27 606.09 L89.46 603.3 L89.65 600.41 L89.84 597.45 L90.03 594.41 L90.22 591.31 L90.41 588.16 L90.6 584.98 L90.79 581.78 L90.98 578.58 L91.17 575.39 L91.36 572.23 L91.55 569.12 L91.74 566.07 L91.93 563.11 L92.12 560.25 L92.31 557.52 L92.5 554.92 L92.69 552.48 L92.88 550.22 L93.07 548.15 L93.26 546.28 L93.45 544.64 L93.64 543.22 L93.83 542.05 L94.02 541.13 L94.21 540.47 L94.4 540.07 L94.59 539.94 L94.78 540.06 L94.97 540.39 L95.16 540.94 L95.35 541.7 L95.54 542.67 L95.73 543.84 L95.92 545.2 L96.11 546.76 L96.3 548.49 L96.49 550.39 L96.68 552.44 L96.87 554.64 L97.06 556.98 L97.25 559.43 L97.44 562 L97.63 564.65 L97.82 567.39 L98.01 570.2 L98.2 573.06 L98.39 575.96 L98.59 578.89 L98.78 581.83 L98.97 584.77 L99.16 587.71 L99.35 590.62 L99.54 593.51 L99.73 596.35 L99.92 599.14 L100.11 601.88 L100.3 604.55 L100.49 607.14 L100.68 609.66 L100.87 612.1 L101.06 614.44 L101.25 616.7 L101.44 618.86 L101.63 620.93 L101.82 622.9 L102.01 624.78 L102.2 626.56 L102.39 628.24 L102.58 629.83 L102.77 631.32 L102.96 632.72 L103.15 634.03 L103.34 635.26 L103.53 636.4 L103.72 637.47 L103.91 638.45 L104.1 639.37 L104.29 640.21 L104.48 640.99 L104.67 641.7 L104.86 642.36 L105.05 642.96 L105.24 643.51 L105.43 644.02 L105.62 644.48 L105.81 644.89 L106 645.27 L106.19 645.62 L106.38 645.93 L106.57 646.21 L106.76 646.47 L106.95 646.7 L107.14 646.91 L107.33 647.1 L107.52 647.27 L107.71 647.43 L107.91 647.57 L108.1 647.7 L108.29 647.81 L108.48 647.92 L108.67 648.02 L108.86 648.1 L109.05 648.18 L109.24 648.26 L109.43 648.33 L109.62 648.39 L109.81 648.45 L110 648.51 L110.19 648.56 L110.38 648.61 L110.57 648.65 L110.76 648.7 L110.95 648.74 L111.14 648.78 L111.33 648.82 L111.33 648.86 L81.09 643.72 Z" fill="#ff0000" stroke="#b80000" stroke-width="0.6" stroke-linejoin="round"/>
<path d="M443.72 579.87 L444.53 579.99 L445.33 580.08 L446.14 580.15 L446.95 580.18 L447.75 580.2 L448.56 580.19 L449.37 580.16 L450.17 580.11 L450.98 580.04 L451.79 579.95 L452.59 579.85 L453.4 579.73 L454.21 579.6 L455.01 579.45 L455.82 579.29 L456.63 579.13 L457.43 578.95 L458.24 578.77 L459.05 578.59 L459.85 578.4 L460.66 578.19 L461.47 577.89 L462.28 577.52 L463.08 577.08 L463.89 576.59 L464.7 576.05 L465.5 575.47 L466.31 574.87 L467.12 574.26 L467.92 573.65 L468.73 573.04 L469.54 572.46 L470.34 571.91 L471.15 571.41 L471.96 570.94 L472.76 570.49 L473.57 570.05 L474.38 569.63 L475.18 569.22 L475.99 568.81 L476.8 568.41 L477.6 568.02 L478.41 567.62 L479.22 567.23 L480.02 566.82 L480.83 566.42 L481.64 566 L482.45 565.57 L483.25 565.12 L484.06 564.66 L484.87 564.18 L485.67 563.68 L486.48 563.15 L487.29 562.6 L488.09 562.01 L488.9 561.3 L489.71 560.54 L490.51 559.89 L491.32 559.3 L492.13 558.8 L492.93 558.37 L493.74 558.04 L494.55 557.78 L495.35 557.63 L496.16 557.6 L496.97 557.62 L497.77 557.75 L498.58 557.94 L499.39 558.15 L500.19 558.39 L501 558.68 L501.81 559.01 L502.62 559.37 L503.42 559.77 L504.23 560.2 L505.04 560.67 L505.84 561.17 L506.65 561.69 L507.46 562.24 L508.26 562.83 L509.07 563.51 L509.88 564.31 L510.68 565.22 L511.49 566.2 L512.3 567.22 L513.1 568.26 L513.91 569.29 L514.72 570.28 L515.52 571.2 L516.33 572.03 L517.14 572.8 L517.94 573.55 L518.75 574.29 L519.56 575.01 L520.36 575.7 L521.17 576.36 L521.98 576.99 L522.79 577.57 L523.59 578.11 L524.4 578.61 L525.21 579.07 L526.01 579.5 L526.82 579.92 L527.63 580.31 L528.43 580.69 L529.24 581.06 L530.05 581.43 L530.85 581.8 L531.66 582.18 L532.47 582.57 L533.27 582.97 L534.08 583.4 L534.89 583.85 L535.69 584.32 L536.5 584.8 L537.31 585.3 L538.11 585.81 L538.92 586.33 L539.73 586.85 L540.53 587.37 L541.34 587.89 L542.15 588.4 L542.96 588.91 L543.76 589.4 L544.57 589.88 L545.38 590.34 L546.18 590.78 L546.99 591.2 L547.8 591.6 L548.6 592 L549.41 592.39 L550.22 592.78 L551.02 593.16 L551.83 593.53 L552.64 593.9 L553.44 594.26 L554.25 594.62 L555.06 594.96 L555.86 595.3 L556.67 595.62 L557.48 595.94 L558.28 596.25 L559.09 596.55 L559.9 596.84 L560.7 597.1 L561.51 597.34 L562.32 597.57 L563.13 597.78 L563.93 597.99 L564.74 598.2 L565.55 598.41 L566.35 598.63 L567.16 598.86 L567.97 599.11 L568.77 599.39 L569.58 599.69 L570.39 600.02 L571.19 600.45 L572 601.3 L572 601.3 L443.72 579.87 Z" fill="#ff0000" stroke="#b80000" stroke-width="0.6" stroke-linejoin="round"/>
<path d="M411.64 589.12 L412.34 589.03 L413.03 588.92 L413.72 588.79 L414.41 588.65 L415.11 588.49 L415.8 588.32 L416.49 588.13 L417.18 587.93 L417.87 587.71 L418.57 587.48 L419.26 587.24 L419.95 586.99 L420.64 586.73 L421.33 586.46 L422.03 586.18 L422.72 585.89 L423.41 585.58 L424.1 585.24 L424.8 584.87 L425.49 584.48 L426.18 584.07 L426.87 583.64 L427.56 583.18 L428.26 582.71 L428.95 582.23 L429.64 581.73 L430.33 581.22 L431.02 580.7 L431.72 580.17 L432.41 579.63 L433.1 579.09 L433.79 578.55 L434.48 578.01 L435.18 577.47 L435.87 576.93 L436.56 576.39 L437.25 575.85 L437.95 575.3 L438.64 574.74 L439.33 574.18 L440.02 573.6 L440.71 573.01 L441.41 572.42 L442.1 571.82 L442.79 571.21 L443.48 570.6 L444.17 569.98 L444.87 569.36 L445.56 568.73 L446.25 568.1 L446.94 567.47 L447.64 566.83 L448.33 566.2 L449.02 565.56 L449.71 564.9 L450.4 564.22 L451.1 563.57 L451.79 562.98 L452.48 562.44 L453.17 561.95 L453.86 561.52 L454.56 561.14 L455.25 560.83 L455.94 560.58 L456.63 560.38 L457.33 560.28 L458.02 560.26 L458.71 560.26 L459.4 560.34 L460.09 560.54 L460.79 560.83 L461.48 561.16 L462.17 561.62 L462.86 562.2 L463.55 562.84 L464.25 563.57 L464.94 564.4 L465.63 565.28 L466.32 566.23 L467.02 567.26 L467.71 568.33 L468.4 569.5 L469.09 570.67 L469.78 571.76 L470.48 572.82 L471.17 573.89 L471.86 574.94 L472.55 575.96 L473.24 576.95 L473.94 577.9 L474.63 578.8 L475.32 579.62 L476.01 580.37 L476.71 581.04 L477.4 581.67 L478.09 582.28 L478.78 582.86 L479.47 583.43 L480.17 583.97 L480.86 584.49 L481.55 584.99 L482.24 585.48 L482.93 585.96 L483.63 586.42 L484.32 586.88 L485.01 587.32 L485.7 587.76 L486.4 588.2 L487.09 588.63 L487.78 589.06 L488.47 589.49 L489.16 589.91 L489.86 590.31 L490.55 590.7 L491.24 591.08 L491.93 591.46 L492.62 591.83 L493.32 592.19 L494.01 592.55 L494.7 592.91 L495.39 593.27 L496.08 593.63 L496.78 594 L497.47 594.37 L498.16 594.75 L498.85 595.14 L499.55 595.54 L500.24 595.96 L500.93 596.39 L501.62 596.85 L502.31 597.32 L503.01 597.8 L503.7 598.29 L504.39 598.79 L505.08 599.29 L505.77 599.78 L506.47 600.27 L507.16 600.75 L507.85 601.21 L508.54 601.65 L509.24 602.07 L509.93 602.46 L510.62 602.82 L511.31 603.17 L512 603.52 L512.7 603.85 L513.39 604.19 L514.08 604.51 L514.77 604.83 L515.46 605.14 L516.16 605.45 L516.85 605.74 L517.54 606.03 L518.23 606.3 L518.93 606.57 L519.62 606.82 L520.31 607.06 L521 607.29 L521.69 607.5 L521.69 607.5 L411.64 589.12 Z" fill="#ff0000" stroke="#b80000" stroke-width="0.6" stroke-linejoin="round"/>
<path d="M385.06 599.28 L385.64 599.31 L386.22 599.29 L386.8 599.25 L387.38 599.17 L387.96 599.06 L388.53 598.92 L389.11 598.75 L389.69 598.56 L390.27 598.35 L390.85 598.11 L391.43 597.86 L392.01 597.59 L392.59 597.3 L393.17 597 L393.74 596.69 L394.32 596.37 L394.9 596.04 L395.48 595.71 L396.06 595.36 L396.64 594.98 L397.22 594.52 L397.8 594 L398.38 593.42 L398.95 592.79 L399.53 592.11 L400.11 591.4 L400.69 590.67 L401.27 589.91 L401.85 589.15 L402.43 588.38 L403.01 587.62 L403.58 586.88 L404.16 586.15 L404.74 585.46 L405.32 584.8 L405.9 584.18 L406.48 583.58 L407.06 583 L407.64 582.43 L408.22 581.88 L408.79 581.33 L409.37 580.77 L409.95 580.21 L410.53 579.64 L411.11 579.06 L411.69 578.45 L412.27 577.81 L412.85 577.15 L413.43 576.44 L414 575.69 L414.58 574.9 L415.16 574.05 L415.74 573.05 L416.32 571.85 L416.9 570.6 L417.48 569.49 L418.06 568.43 L418.63 567.42 L419.21 566.5 L419.79 565.65 L420.37 564.85 L420.95 564.15 L421.53 563.56 L422.11 563.02 L422.69 562.59 L423.27 562.33 L423.84 562.16 L424.42 562.04 L425 562.03 L425.58 562.17 L426.16 562.48 L426.74 562.88 L427.32 563.34 L427.9 564.01 L428.48 564.84 L429.05 565.74 L429.63 566.75 L430.21 567.89 L430.79 569.11 L431.37 570.4 L431.95 571.78 L432.53 573.23 L433.11 574.73 L433.69 576.39 L434.26 577.98 L434.84 579.29 L435.42 580.44 L436 581.56 L436.58 582.64 L437.16 583.68 L437.74 584.67 L438.32 585.61 L438.89 586.51 L439.47 587.36 L440.05 588.15 L440.63 588.89 L441.21 589.57 L441.79 590.19 L442.37 590.75 L442.95 591.26 L443.53 591.73 L444.1 592.18 L444.68 592.61 L445.26 593 L445.84 593.38 L446.42 593.75 L447 594.09 L447.58 594.43 L448.16 594.76 L448.74 595.08 L449.31 595.41 L449.89 595.73 L450.47 596.06 L451.05 596.39 L451.63 596.73 L452.21 597.09 L452.79 597.46 L453.37 597.85 L453.94 598.26 L454.52 598.7 L455.1 599.17 L455.68 599.67 L456.26 600.2 L456.84 600.75 L457.42 601.31 L458 601.88 L458.58 602.47 L459.15 603.05 L459.73 603.64 L460.31 604.22 L460.89 604.78 L461.47 605.34 L462.05 605.87 L462.63 606.39 L463.21 606.87 L463.79 607.32 L464.36 607.74 L464.94 608.13 L465.52 608.51 L466.1 608.89 L466.68 609.27 L467.26 609.64 L467.84 610.01 L468.42 610.37 L468.99 610.72 L469.57 611.06 L470.15 611.4 L470.73 611.73 L471.31 612.05 L471.89 612.36 L472.47 612.67 L473.05 612.96 L473.63 613.24 L474.2 613.51 L474.78 613.76 L475.36 614.01 L475.94 614.24 L476.52 614.46 L477.1 614.66 L477.1 614.66 L385.06 599.28 Z" fill="#ff0000" stroke="#b80000" stroke-width="0.6" stroke-linejoin="round"/>
<path d="M361.77 610 L362.25 609.86 L362.73 609.7 L363.21 609.5 L363.69 609.27 L364.17 609.02 L364.65 608.73 L365.12 608.43 L365.6 608.1 L366.08 607.75 L366.56 607.38 L367.04 606.99 L367.52 606.59 L368 606.17 L368.48 605.74 L368.95 605.3 L369.43 604.85 L369.91 604.37 L370.39 603.84 L370.87 603.26 L371.35 602.64 L371.83 601.98 L372.3 601.29 L372.78 600.57 L373.26 599.82 L373.74 599.06 L374.22 598.28 L374.7 597.49 L375.18 596.69 L375.66 595.85 L376.13 594.99 L376.61 594.09 L377.09 593.16 L377.57 592.2 L378.05 591.22 L378.53 590.21 L379.01 589.17 L379.49 588.11 L379.96 587.03 L380.44 585.88 L380.92 584.66 L381.4 583.39 L381.88 582.11 L382.36 580.84 L382.84 579.6 L383.31 578.36 L383.79 577.12 L384.27 575.88 L384.75 574.67 L385.23 573.49 L385.71 572.37 L386.19 571.26 L386.67 570.17 L387.14 569.11 L387.62 568.11 L388.1 567.2 L388.58 566.37 L389.06 565.56 L389.54 564.78 L390.02 564.06 L390.5 563.45 L390.97 562.96 L391.45 562.63 L391.93 562.33 L392.41 562.06 L392.89 561.85 L393.37 561.71 L393.85 561.68 L394.32 561.76 L394.8 561.99 L395.28 562.32 L395.76 562.73 L396.24 563.18 L396.72 563.67 L397.2 564.31 L397.68 565.12 L398.15 566.03 L398.63 566.99 L399.11 567.98 L399.59 569.06 L400.07 570.23 L400.55 571.48 L401.03 572.78 L401.5 574.09 L401.98 575.45 L402.46 576.86 L402.94 578.32 L403.42 579.8 L403.9 581.28 L404.38 582.83 L404.86 584.48 L405.33 586.12 L405.81 587.62 L406.29 588.86 L406.77 589.88 L407.25 590.85 L407.73 591.8 L408.21 592.71 L408.69 593.6 L409.16 594.45 L409.64 595.28 L410.12 596.08 L410.6 596.86 L411.08 597.61 L411.56 598.34 L412.04 599.05 L412.51 599.73 L412.99 600.4 L413.47 601.06 L413.95 601.69 L414.43 602.31 L414.91 602.92 L415.39 603.52 L415.87 604.1 L416.34 604.68 L416.82 605.24 L417.3 605.8 L417.78 606.35 L418.26 606.9 L418.74 607.45 L419.22 607.99 L419.7 608.53 L420.17 609.07 L420.65 609.61 L421.13 610.16 L421.61 610.69 L422.09 611.23 L422.57 611.76 L423.05 612.29 L423.52 612.8 L424 613.31 L424.48 613.82 L424.96 614.31 L425.44 614.79 L425.92 615.25 L426.4 615.71 L426.88 616.15 L427.35 616.57 L427.83 616.98 L428.31 617.37 L428.79 617.74 L429.27 618.09 L429.75 618.42 L430.23 618.74 L430.71 619.05 L431.18 619.35 L431.66 619.65 L432.14 619.94 L432.62 620.23 L433.1 620.51 L433.58 620.78 L434.06 621.04 L434.53 621.29 L435.01 621.53 L435.49 621.76 L435.97 621.98 L436.45 622.18 L436.93 622.37 L437.41 622.55 L437.89 622.71 L437.89 622.71 L361.77 610 Z" fill="#ff0000" stroke="#b80000" stroke-width="0.6" stroke-linejoin="round"/>
<path d="M345.08 621.81 L345.43 621.66 L345.78 621.44 L346.13 621.14 L346.48 620.77 L346.84 620.35 L347.19 619.88 L347.54 619.37 L347.89 618.83 L348.25 618.26 L348.6 617.65 L348.95 616.94 L349.3 616.12 L349.65 615.2 L350.01 614.2 L350.36 613.13 L350.71 611.99 L351.06 610.79 L351.42 609.55 L351.77 608.28 L352.12 606.98 L352.47 605.67 L352.83 604.31 L353.18 602.85 L353.53 601.3 L353.88 599.66 L354.23 597.96 L354.59 596.19 L354.94 594.38 L355.29 592.53 L355.64 590.66 L356 588.78 L356.35 586.89 L356.7 585.02 L357.05 583.18 L357.41 581.37 L357.76 579.58 L358.11 577.76 L358.46 575.93 L358.81 574.13 L359.17 572.38 L359.52 570.66 L359.87 568.96 L360.22 567.31 L360.58 565.73 L360.93 564.25 L361.28 562.81 L361.63 561.42 L361.98 560.13 L362.34 558.98 L362.69 557.95 L363.04 556.95 L363.39 556.04 L363.75 555.3 L364.1 554.78 L364.45 554.38 L364.8 554.03 L365.16 553.76 L365.51 553.62 L365.86 553.66 L366.21 553.86 L366.56 554.19 L366.92 554.61 L367.27 555.07 L367.62 555.61 L367.97 556.37 L368.33 557.28 L368.68 558.28 L369.03 559.32 L369.38 560.46 L369.74 561.73 L370.09 563.09 L370.44 564.51 L370.79 565.97 L371.14 567.52 L371.5 569.15 L371.85 570.84 L372.2 572.54 L372.55 574.35 L372.91 576.31 L373.26 578.23 L373.61 579.97 L373.96 581.38 L374.31 582.66 L374.67 583.89 L375.02 585.09 L375.37 586.25 L375.72 587.37 L376.08 588.46 L376.43 589.51 L376.78 590.53 L377.13 591.53 L377.49 592.49 L377.84 593.43 L378.19 594.35 L378.54 595.24 L378.89 596.11 L379.25 596.97 L379.6 597.8 L379.95 598.62 L380.3 599.42 L380.66 600.21 L381.01 600.99 L381.36 601.76 L381.71 602.52 L382.07 603.27 L382.42 604.02 L382.77 604.77 L383.12 605.51 L383.47 606.26 L383.83 607 L384.18 607.75 L384.53 608.51 L384.88 609.26 L385.24 610.02 L385.59 610.78 L385.94 611.53 L386.29 612.28 L386.64 613.03 L387 613.78 L387.35 614.52 L387.7 615.25 L388.05 615.97 L388.41 616.68 L388.76 617.38 L389.11 618.07 L389.46 618.74 L389.82 619.4 L390.17 620.05 L390.52 620.67 L390.87 621.28 L391.22 621.87 L391.58 622.44 L391.93 622.98 L392.28 623.5 L392.63 624 L392.99 624.47 L393.34 624.92 L393.69 625.33 L394.04 625.72 L394.39 626.08 L394.75 626.44 L395.1 626.79 L395.45 627.14 L395.8 627.48 L396.16 627.81 L396.51 628.13 L396.86 628.45 L397.21 628.75 L397.57 629.05 L397.92 629.33 L398.27 629.6 L398.62 629.85 L398.97 630.09 L399.33 630.32 L399.68 630.53 L400.03 630.72 L400.38 630.89 L400.74 631.04 L401.09 631.17 L401.09 631.17 L345.08 621.81 Z" fill="#ff0000" stroke="#b80000" stroke-width="0.6" stroke-linejoin="round"/>
<path d="M326.4 633.3 L326.65 633.25 L326.89 633.04 L327.14 632.7 L327.39 632.27 L327.64 631.78 L327.88 631.26 L328.13 630.51 L328.38 629.5 L328.63 628.33 L328.87 627.08 L329.12 625.84 L329.37 624.63 L329.61 623.38 L329.86 622.09 L330.11 620.76 L330.36 619.38 L330.6 617.96 L330.85 616.49 L331.1 614.96 L331.35 613.38 L331.59 611.74 L331.84 610.04 L332.09 608.24 L332.33 606.36 L332.58 604.4 L332.83 602.37 L333.08 600.28 L333.32 598.14 L333.57 595.94 L333.82 593.71 L334.07 591.44 L334.31 589.14 L334.56 586.83 L334.81 584.5 L335.06 582.17 L335.3 579.83 L335.55 577.42 L335.8 574.94 L336.04 572.41 L336.29 569.83 L336.54 567.22 L336.79 564.58 L337.03 561.94 L337.28 559.31 L337.53 556.69 L337.78 554.1 L338.02 551.55 L338.27 549.06 L338.52 546.58 L338.76 544.15 L339.01 541.93 L339.26 539.84 L339.51 537.93 L339.75 536.24 L340 534.7 L340.25 533.42 L340.5 532.32 L340.74 531.42 L340.99 530.89 L341.24 530.51 L341.48 530.32 L341.73 530.49 L341.98 531.06 L342.23 532.06 L342.47 533.54 L342.72 535.44 L342.97 537.7 L343.22 540.36 L343.46 543.35 L343.71 546.63 L343.96 549.87 L344.2 553.21 L344.45 556.61 L344.7 560.04 L344.95 563.45 L345.19 566.81 L345.44 570.08 L345.69 573.22 L345.94 576.19 L346.18 578.96 L346.43 581.49 L346.68 583.93 L346.93 586.34 L347.17 588.69 L347.42 590.95 L347.67 593.07 L347.91 595.02 L348.16 596.77 L348.41 598.29 L348.66 599.53 L348.9 600.53 L349.15 601.43 L349.4 602.23 L349.65 602.96 L349.89 603.63 L350.14 604.26 L350.39 604.85 L350.63 605.44 L350.88 606.04 L351.13 606.65 L351.38 607.3 L351.62 607.99 L351.87 608.68 L352.12 609.37 L352.37 610.06 L352.61 610.76 L352.86 611.45 L353.11 612.13 L353.35 612.81 L353.6 613.49 L353.85 614.16 L354.1 614.82 L354.34 615.48 L354.59 616.13 L354.84 616.76 L355.09 617.39 L355.33 618 L355.58 618.61 L355.83 619.22 L356.07 619.81 L356.32 620.4 L356.57 620.99 L356.82 621.58 L357.06 622.16 L357.31 622.74 L357.56 623.33 L357.81 623.91 L358.05 624.5 L358.3 625.08 L358.55 625.68 L358.79 626.28 L359.04 626.9 L359.29 627.53 L359.54 628.17 L359.78 628.81 L360.03 629.45 L360.28 630.1 L360.53 630.73 L360.77 631.36 L361.02 631.97 L361.27 632.57 L361.52 633.14 L361.76 633.69 L362.01 634.21 L362.26 634.7 L362.5 635.16 L362.75 635.6 L363 636.02 L363.25 636.44 L363.49 636.85 L363.74 637.25 L363.99 637.63 L364.24 638 L364.48 638.35 L364.73 638.69 L364.98 639.01 L365.22 639.31 L365.47 639.6 L365.72 639.87 L365.72 639.87 L326.4 633.3 Z" fill="#ff0000" stroke="#b80000" stroke-width="0.6" stroke-linejoin="round"/>
<text x="31.8" y="179.96" text-anchor="middle" font-size="12">0</text>
<text x="27.4" y="119.56" text-anchor="middle" font-size="12">0.2</text>
<text x="35.3" y="187.06" text-anchor="middle" font-size="12">3</text>
<text x="71.2" y="193.46" text-anchor="middle" font-size="12">3.5</text>
<text x="108.5" y="199.36" text-anchor="middle" font-size="12">4</text>
<text x="144.4" y="206.16" text-anchor="middle" font-size="12">4.5</text>
<text x="181.4" y="211.26" text-anchor="middle" font-size="12">5</text>
<text x="210.2" y="214.36" text-anchor="middle" font-size="12">5</text>
<text x="237.1" y="196.26" text-anchor="middle" font-size="12">10</text>
<text x="261.9" y="176.76" text-anchor="middle" font-size="12">25</text>
<text x="320.6" y="181.46" text-anchor="middle" font-size="12">0</text>
<text x="320.8" y="132.86" text-anchor="middle" font-size="12">2</text>
<text x="320.8" y="84.46" text-anchor="middle" font-size="12">4</text>
<text x="351.6" y="193.56" text-anchor="middle" font-size="12">1</text>
<text x="391.4" y="200.46" text-anchor="middle" font-size="12">2</text>
<text x="430.9" y="207.06" text-anchor="middle" font-size="12">3</text>
<text x="471.2" y="214.26" text-anchor="middle" font-size="12">4</text>
<text x="501.5" y="216.66" text-anchor="middle" font-size="12">1</text>
<text x="512.3" y="207.96" text-anchor="middle" font-size="12">2</text>
<text x="523.3" y="199.36" text-anchor="middle" font-size="12">3</text>
<text x="534.7" y="190.86" text-anchor="middle" font-size="12">4</text>
<text x="545.7" y="182.66" text-anchor="middle" font-size="12">5</text>
<text x="557" y="173.96" text-anchor="middle" font-size="12">6</text>
<text x="568.2" y="164.76" text-anchor="middle" font-size="12">7</text>
<text x="578.8" y="156.66" text-anchor="middle" font-size="12">8</text>
<text x="31.8" y="407.06" text-anchor="middle" font-size="12">0</text>
<text x="26.7" y="362.36" text-anchor="middle" font-size="12">0.5</text>
<text x="31.8" y="315.36" text-anchor="middle" font-size="12">1</text>
<text x="65.9" y="419.66" text-anchor="middle" font-size="12">0</text>
<text x="129.3" y="430.66" text-anchor="middle" font-size="12">0.5</text>
<text x="192.7" y="440.76" text-anchor="middle" font-size="12">1</text>
<text x="210.2" y="441.46" text-anchor="middle" font-size="12">5</text>
<text x="237.1" y="423.36" text-anchor="middle" font-size="12">10</text>
<text x="261.9" y="403.86" text-anchor="middle" font-size="12">25</text>
<text x="329.1" y="410.16" text-anchor="middle" font-size="12">0</text>
<text x="324" y="366.76" text-anchor="middle" font-size="12">0.5</text>
<text x="328.5" y="320.16" text-anchor="middle" font-size="12">1</text>
<text x="338.1" y="418.56" text-anchor="middle" font-size="12">0</text>
<text x="385.6" y="426.36" text-anchor="middle" font-size="12">2</text>
<text x="433.2" y="434.16" text-anchor="middle" font-size="12">4</text>
<text x="480.4" y="442.16" text-anchor="middle" font-size="12">6</text>
<text x="504.6" y="443.86" text-anchor="middle" font-size="12">3</text>
<text x="519" y="431.46" text-anchor="middle" font-size="12">4</text>
<text x="534" y="420.46" text-anchor="middle" font-size="12">5</text>
<text x="549" y="408.96" text-anchor="middle" font-size="12">6</text>
<text x="565" y="397.96" text-anchor="middle" font-size="12">7</text>
<text x="579" y="386.46" text-anchor="middle" font-size="12">8</text>
<text x="22.1" y="641.46" text-anchor="middle" font-size="12">0</text>
<text x="22" y="587.46" text-anchor="middle" font-size="12">2</text>
<text x="21.9" y="533.36" text-anchor="middle" font-size="12">4</text>
<text x="53.1" y="654.36" text-anchor="middle" font-size="12">0</text>
<text x="94.8" y="661.26" text-anchor="middle" font-size="12">1</text>
<text x="136.6" y="667.86" text-anchor="middle" font-size="12">2</text>
<text x="177.8" y="674.46" text-anchor="middle" font-size="12">3</text>
<text x="207.2" y="677.76" text-anchor="middle" font-size="12">5</text>
<text x="234.6" y="658.36" text-anchor="middle" font-size="12">10</text>
<text x="260.7" y="638.36" text-anchor="middle" font-size="12">25</text>
<text x="319" y="639.46" text-anchor="middle" font-size="12">0</text>
<text x="319.6" y="568.26" text-anchor="middle" font-size="12">5</text>
<text x="327.7" y="647.46" text-anchor="middle" font-size="12">0</text>
<text x="382.5" y="657.96" text-anchor="middle" font-size="12">0.5</text>
<text x="436.5" y="666.16" text-anchor="middle" font-size="12">1</text>
<text x="501.4" y="674.36" text-anchor="middle" font-size="12">3</text>
<text x="516" y="662.96" text-anchor="middle" font-size="12">4</text>
<text x="531.5" y="649.96" text-anchor="middle" font-size="12">5</text>
<text x="547.5" y="637.96" text-anchor="middle" font-size="12">6</text>
<text x="563.5" y="626.46" text-anchor="middle" font-size="12">7</text>
<text x="579" y="614.96" text-anchor="middle" font-size="12">8</text>
<text x="286.8" y="156.5" text-anchor="middle" font-size="17.5">&#8734;</text>
<text x="286.8" y="383.6" text-anchor="middle" font-size="17.5">&#8734;</text>
<text x="286.2" y="618.1" text-anchor="middle" font-size="17.5">&#8734;</text>
<text x="261.3" y="205.7" font-size="12.5" font-style="italic" text-anchor="start">&#8467;<tspan font-size="9.5" dy="1.9">c</tspan></text>
<text x="261.3" y="432.8" font-size="12.5" font-style="italic" text-anchor="start">&#8467;<tspan font-size="9.5" dy="1.9">c</tspan></text>
<text x="259.9" y="668.3" font-size="12.5" font-style="italic" text-anchor="start">&#8467;<tspan font-size="9.5" dy="1.9">c</tspan></text>
<text x="540.2" y="213.7" font-size="12.2" textLength="47.6" lengthAdjust="spacingAndGlyphs">Time step</text>
<text x="541.2" y="441.5" font-size="12.2" textLength="47.6" lengthAdjust="spacingAndGlyphs">Time step</text>
<text x="541.2" y="673" font-size="12.2" textLength="47.6" lengthAdjust="spacingAndGlyphs">Time step</text>
<path transform="translate(85.9 225.9)" d="M6.3,-8.1 C5.5,-9.2 3.1,-9.2 2.3,-8.1 C1.5,-7.0 1.9,-5.6 3.3,-5.0 L4.2,-4.7 C2.0,-4.6 0.3,-3.5 0.35,-2.0 C0.4,-0.4 1.6,0.15 2.7,0.05 C3.9,-0.05 5.0,-0.8 5.8,-1.9" fill="none" stroke="#000" stroke-width="1.05" stroke-linecap="round"/><text x="92.5" y="228.2" font-size="9.5" font-style="italic">e</text><text x="102.1" y="225.9" font-size="12" text-anchor="middle">&#183;</text><text x="106.4" y="225.9" font-size="12.3">10</text><text x="118.5" y="220.9" font-size="8.5">4</text>
<path transform="translate(376.6 226)" d="M6.3,-8.1 C5.5,-9.2 3.1,-9.2 2.3,-8.1 C1.5,-7.0 1.9,-5.6 3.3,-5.0 L4.2,-4.7 C2.0,-4.6 0.3,-3.5 0.35,-2.0 C0.4,-0.4 1.6,0.15 2.7,0.05 C3.9,-0.05 5.0,-0.8 5.8,-1.9" fill="none" stroke="#000" stroke-width="1.05" stroke-linecap="round"/><text x="383.2" y="228.3" font-size="9.5" font-style="italic">e</text><text x="392.8" y="226" font-size="12" text-anchor="middle">&#183;</text><text x="397.1" y="226" font-size="12.3">10</text><text x="409.2" y="221" font-size="8.5">4</text>
<path transform="translate(85.3 452.8)" d="M6.3,-8.1 C5.5,-9.2 3.1,-9.2 2.3,-8.1 C1.5,-7.0 1.9,-5.6 3.3,-5.0 L4.2,-4.7 C2.0,-4.6 0.3,-3.5 0.35,-2.0 C0.4,-0.4 1.6,0.15 2.7,0.05 C3.9,-0.05 5.0,-0.8 5.8,-1.9" fill="none" stroke="#000" stroke-width="1.05" stroke-linecap="round"/><text x="91.9" y="455.1" font-size="9.5" font-style="italic">d</text><text x="101.5" y="452.8" font-size="12" text-anchor="middle">&#183;</text><text x="105.8" y="452.8" font-size="12.3">10</text><text x="117.9" y="447.8" font-size="8.5">4</text>
<path transform="translate(383.3 453.2)" d="M6.3,-8.1 C5.5,-9.2 3.1,-9.2 2.3,-8.1 C1.5,-7.0 1.9,-5.6 3.3,-5.0 L4.2,-4.7 C2.0,-4.6 0.3,-3.5 0.35,-2.0 C0.4,-0.4 1.6,0.15 2.7,0.05 C3.9,-0.05 5.0,-0.8 5.8,-1.9" fill="none" stroke="#000" stroke-width="1.05" stroke-linecap="round"/><text x="389.9" y="455.5" font-size="9.5" font-style="italic">d</text><text x="399.5" y="453.2" font-size="12" text-anchor="middle">&#183;</text><text x="403.8" y="453.2" font-size="12.3">10</text><text x="415.9" y="448.2" font-size="8.5">4</text>
<path transform="translate(93.9 683)" d="M6.3,-8.1 C5.5,-9.2 3.1,-9.2 2.3,-8.1 C1.5,-7.0 1.9,-5.6 3.3,-5.0 L4.2,-4.7 C2.0,-4.6 0.3,-3.5 0.35,-2.0 C0.4,-0.4 1.6,0.15 2.7,0.05 C3.9,-0.05 5.0,-0.8 5.8,-1.9" fill="none" stroke="#000" stroke-width="1.05" stroke-linecap="round"/><text x="100.5" y="685.3" font-size="9.5" font-style="italic">h</text>
<path transform="translate(388.3 683.3)" d="M6.3,-8.1 C5.5,-9.2 3.1,-9.2 2.3,-8.1 C1.5,-7.0 1.9,-5.6 3.3,-5.0 L4.2,-4.7 C2.0,-4.6 0.3,-3.5 0.35,-2.0 C0.4,-0.4 1.6,0.15 2.7,0.05 C3.9,-0.05 5.0,-0.8 5.8,-1.9" fill="none" stroke="#000" stroke-width="1.05" stroke-linecap="round"/><text x="394.9" y="685.6" font-size="9.5" font-style="italic">h</text>
<g transform="translate(10.2 152.2) rotate(-90)"><text x="0" y="0" font-size="12" textLength="22.2" lengthAdjust="spacingAndGlyphs">PDF</text><text x="26.1" y="0" font-size="12" text-anchor="middle">&#183;</text><text x="29.0" y="0" font-size="12.3" textLength="11.8" lengthAdjust="spacingAndGlyphs">10</text><text x="42.3" y="-4.8" font-size="8.5" textLength="10.2" lengthAdjust="spacingAndGlyphs">&#8722;3</text></g>
<g transform="translate(307.8 152.2) rotate(-90)"><text x="0" y="0" font-size="12" textLength="22.2" lengthAdjust="spacingAndGlyphs">PDF</text><text x="26.1" y="0" font-size="12" text-anchor="middle">&#183;</text><text x="29.0" y="0" font-size="12.3" textLength="11.8" lengthAdjust="spacingAndGlyphs">10</text><text x="42.3" y="-4.8" font-size="8.5" textLength="10.2" lengthAdjust="spacingAndGlyphs">&#8722;3</text></g>
<g transform="translate(10.2 380.4) rotate(-90)"><text x="0" y="0" font-size="12" textLength="22.2" lengthAdjust="spacingAndGlyphs">PDF</text><text x="26.1" y="0" font-size="12" text-anchor="middle">&#183;</text><text x="29.0" y="0" font-size="12.3" textLength="11.8" lengthAdjust="spacingAndGlyphs">10</text><text x="42.3" y="-4.8" font-size="8.5" textLength="10.2" lengthAdjust="spacingAndGlyphs">&#8722;3</text></g>
<g transform="translate(307.8 384.2) rotate(-90)"><text x="0" y="0" font-size="12" textLength="22.2" lengthAdjust="spacingAndGlyphs">PDF</text><text x="26.1" y="0" font-size="12" text-anchor="middle">&#183;</text><text x="29.0" y="0" font-size="12.3" textLength="11.8" lengthAdjust="spacingAndGlyphs">10</text><text x="42.3" y="-4.8" font-size="8.5" textLength="10.2" lengthAdjust="spacingAndGlyphs">&#8722;3</text></g>
<g transform="translate(9.1 594.7) rotate(-90)"><text x="0" y="0" font-size="12" textLength="22.2" lengthAdjust="spacingAndGlyphs">PDF</text></g>
<g transform="translate(306 593.3) rotate(-90)"><text x="0" y="0" font-size="12" textLength="22.2" lengthAdjust="spacingAndGlyphs">PDF</text></g>
</svg>
</body></html>
